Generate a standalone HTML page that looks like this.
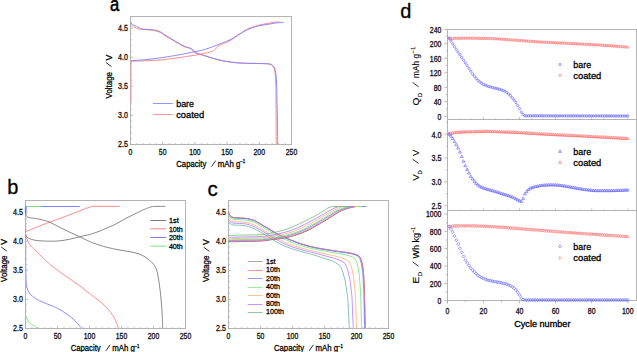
<!DOCTYPE html>
<html><head><meta charset="utf-8"><style>
html,body{margin:0;padding:0;background:#fff;}
body{width:637px;height:352px;overflow:hidden;}
svg{display:block;font-family:"Liberation Sans", sans-serif;}
text{fill:#000;stroke:#000;stroke-width:0.28px;}
.tl{font-weight:normal;fill:#111;stroke:#111;stroke-width:0.32px;}
.bl{fill:#000;}
.rl{stroke-width:0.12px;}
</style></head><body>
<svg width="637" height="352" viewBox="0 0 637 352">
<rect width="637" height="352" fill="#fff"/>
<rect x="130.50" y="16.50" width="161.00" height="128.00" fill="none" stroke="#b4b4b4" stroke-width="1"/>
<line x1="130.50" y1="144.50" x2="130.50" y2="142.10" stroke="#a8a8a8" stroke-width="0.80"/>
<line x1="136.94" y1="144.50" x2="136.94" y2="143.20" stroke="#a8a8a8" stroke-width="0.80"/>
<line x1="143.38" y1="144.50" x2="143.38" y2="143.20" stroke="#a8a8a8" stroke-width="0.80"/>
<line x1="149.82" y1="144.50" x2="149.82" y2="143.20" stroke="#a8a8a8" stroke-width="0.80"/>
<line x1="156.26" y1="144.50" x2="156.26" y2="143.20" stroke="#a8a8a8" stroke-width="0.80"/>
<line x1="162.70" y1="144.50" x2="162.70" y2="142.10" stroke="#a8a8a8" stroke-width="0.80"/>
<line x1="169.14" y1="144.50" x2="169.14" y2="143.20" stroke="#a8a8a8" stroke-width="0.80"/>
<line x1="175.58" y1="144.50" x2="175.58" y2="143.20" stroke="#a8a8a8" stroke-width="0.80"/>
<line x1="182.02" y1="144.50" x2="182.02" y2="143.20" stroke="#a8a8a8" stroke-width="0.80"/>
<line x1="188.46" y1="144.50" x2="188.46" y2="143.20" stroke="#a8a8a8" stroke-width="0.80"/>
<line x1="194.90" y1="144.50" x2="194.90" y2="142.10" stroke="#a8a8a8" stroke-width="0.80"/>
<line x1="201.34" y1="144.50" x2="201.34" y2="143.20" stroke="#a8a8a8" stroke-width="0.80"/>
<line x1="207.78" y1="144.50" x2="207.78" y2="143.20" stroke="#a8a8a8" stroke-width="0.80"/>
<line x1="214.22" y1="144.50" x2="214.22" y2="143.20" stroke="#a8a8a8" stroke-width="0.80"/>
<line x1="220.66" y1="144.50" x2="220.66" y2="143.20" stroke="#a8a8a8" stroke-width="0.80"/>
<line x1="227.10" y1="144.50" x2="227.10" y2="142.10" stroke="#a8a8a8" stroke-width="0.80"/>
<line x1="233.54" y1="144.50" x2="233.54" y2="143.20" stroke="#a8a8a8" stroke-width="0.80"/>
<line x1="239.98" y1="144.50" x2="239.98" y2="143.20" stroke="#a8a8a8" stroke-width="0.80"/>
<line x1="246.42" y1="144.50" x2="246.42" y2="143.20" stroke="#a8a8a8" stroke-width="0.80"/>
<line x1="252.86" y1="144.50" x2="252.86" y2="143.20" stroke="#a8a8a8" stroke-width="0.80"/>
<line x1="259.30" y1="144.50" x2="259.30" y2="142.10" stroke="#a8a8a8" stroke-width="0.80"/>
<line x1="265.74" y1="144.50" x2="265.74" y2="143.20" stroke="#a8a8a8" stroke-width="0.80"/>
<line x1="272.18" y1="144.50" x2="272.18" y2="143.20" stroke="#a8a8a8" stroke-width="0.80"/>
<line x1="278.62" y1="144.50" x2="278.62" y2="143.20" stroke="#a8a8a8" stroke-width="0.80"/>
<line x1="285.06" y1="144.50" x2="285.06" y2="143.20" stroke="#a8a8a8" stroke-width="0.80"/>
<line x1="291.50" y1="144.50" x2="291.50" y2="142.10" stroke="#a8a8a8" stroke-width="0.80"/>
<line x1="130.50" y1="144.50" x2="132.90" y2="144.50" stroke="#a8a8a8" stroke-width="0.80"/>
<line x1="130.50" y1="138.68" x2="131.80" y2="138.68" stroke="#a8a8a8" stroke-width="0.80"/>
<line x1="130.50" y1="132.86" x2="131.80" y2="132.86" stroke="#a8a8a8" stroke-width="0.80"/>
<line x1="130.50" y1="127.05" x2="131.80" y2="127.05" stroke="#a8a8a8" stroke-width="0.80"/>
<line x1="130.50" y1="121.23" x2="131.80" y2="121.23" stroke="#a8a8a8" stroke-width="0.80"/>
<line x1="130.50" y1="115.41" x2="132.90" y2="115.41" stroke="#a8a8a8" stroke-width="0.80"/>
<line x1="130.50" y1="109.59" x2="131.80" y2="109.59" stroke="#a8a8a8" stroke-width="0.80"/>
<line x1="130.50" y1="103.77" x2="131.80" y2="103.77" stroke="#a8a8a8" stroke-width="0.80"/>
<line x1="130.50" y1="97.95" x2="131.80" y2="97.95" stroke="#a8a8a8" stroke-width="0.80"/>
<line x1="130.50" y1="92.14" x2="131.80" y2="92.14" stroke="#a8a8a8" stroke-width="0.80"/>
<line x1="130.50" y1="86.32" x2="132.90" y2="86.32" stroke="#a8a8a8" stroke-width="0.80"/>
<line x1="130.50" y1="80.50" x2="131.80" y2="80.50" stroke="#a8a8a8" stroke-width="0.80"/>
<line x1="130.50" y1="74.68" x2="131.80" y2="74.68" stroke="#a8a8a8" stroke-width="0.80"/>
<line x1="130.50" y1="68.86" x2="131.80" y2="68.86" stroke="#a8a8a8" stroke-width="0.80"/>
<line x1="130.50" y1="63.05" x2="131.80" y2="63.05" stroke="#a8a8a8" stroke-width="0.80"/>
<line x1="130.50" y1="57.23" x2="132.90" y2="57.23" stroke="#a8a8a8" stroke-width="0.80"/>
<line x1="130.50" y1="51.41" x2="131.80" y2="51.41" stroke="#a8a8a8" stroke-width="0.80"/>
<line x1="130.50" y1="45.59" x2="131.80" y2="45.59" stroke="#a8a8a8" stroke-width="0.80"/>
<line x1="130.50" y1="39.77" x2="131.80" y2="39.77" stroke="#a8a8a8" stroke-width="0.80"/>
<line x1="130.50" y1="33.95" x2="131.80" y2="33.95" stroke="#a8a8a8" stroke-width="0.80"/>
<line x1="130.50" y1="28.14" x2="132.90" y2="28.14" stroke="#a8a8a8" stroke-width="0.80"/>
<line x1="130.50" y1="22.32" x2="131.80" y2="22.32" stroke="#a8a8a8" stroke-width="0.80"/>
<line x1="130.50" y1="16.50" x2="131.80" y2="16.50" stroke="#a8a8a8" stroke-width="0.80"/>
<text x="130.50" y="154.50" font-size="8.60" text-anchor="middle" textLength="3.85" lengthAdjust="spacingAndGlyphs" class="tl">0</text>
<text x="162.70" y="154.50" font-size="8.60" text-anchor="middle" textLength="7.70" lengthAdjust="spacingAndGlyphs" class="tl">50</text>
<text x="194.90" y="154.50" font-size="8.60" text-anchor="middle" textLength="11.55" lengthAdjust="spacingAndGlyphs" class="tl">100</text>
<text x="227.10" y="154.50" font-size="8.60" text-anchor="middle" textLength="11.55" lengthAdjust="spacingAndGlyphs" class="tl">150</text>
<text x="259.30" y="154.50" font-size="8.60" text-anchor="middle" textLength="11.55" lengthAdjust="spacingAndGlyphs" class="tl">200</text>
<text x="291.50" y="154.50" font-size="8.60" text-anchor="middle" textLength="11.55" lengthAdjust="spacingAndGlyphs" class="tl">250</text>
<text x="127.90" y="147.40" font-size="8.60" text-anchor="end" textLength="9.90" lengthAdjust="spacingAndGlyphs" class="tl">2.5</text>
<text x="127.90" y="118.31" font-size="8.60" text-anchor="end" textLength="9.90" lengthAdjust="spacingAndGlyphs" class="tl">3.0</text>
<text x="127.90" y="89.22" font-size="8.60" text-anchor="end" textLength="9.90" lengthAdjust="spacingAndGlyphs" class="tl">3.5</text>
<text x="127.90" y="60.13" font-size="8.60" text-anchor="end" textLength="9.90" lengthAdjust="spacingAndGlyphs" class="tl">4.0</text>
<text x="127.90" y="31.04" font-size="8.60" text-anchor="end" textLength="9.90" lengthAdjust="spacingAndGlyphs" class="tl">4.5</text>
<text transform="translate(111.50 98.40) rotate(-90)" font-size="8.60" textLength="26.40" lengthAdjust="spacingAndGlyphs">Voltage</text>
<line x1="111.50" y1="66.60" x2="105.90" y2="62.50" stroke="#1a1a1a" stroke-width="0.90"/>
<text transform="translate(111.50 60.40) rotate(-90)" font-size="8.20" textLength="5.80" lengthAdjust="spacingAndGlyphs">V</text>
<text x="176.30" y="166.60" font-size="8.80" text-anchor="start" textLength="30.00" lengthAdjust="spacingAndGlyphs">Capacity</text>
<line x1="211.50" y1="166.60" x2="215.70" y2="160.60" stroke="#1a1a1a" stroke-width="0.90"/>
<text x="217.80" y="166.60" font-size="8.80" text-anchor="start" textLength="22.60" lengthAdjust="spacingAndGlyphs">mAh g</text>
<text x="240.20" y="163.40" font-size="5.00" text-anchor="start" textLength="4.90" lengthAdjust="spacingAndGlyphs">&#8722;1</text>
<text x="0" y="0" font-size="21" transform="translate(110.1 10.9) scale(0.79 1)" class="bl" style="stroke:#000;stroke-width:0.55px">a</text>
<path d="M131.00 24.80 C131.45 25.13 132.78 26.23 133.70 26.80 C134.62 27.37 135.55 27.82 136.50 28.20 C137.45 28.58 137.98 28.87 139.40 29.10 C140.82 29.33 143.00 29.42 145.00 29.60 C147.00 29.78 149.73 30.00 151.40 30.20 C153.07 30.40 153.48 30.42 155.00 30.80 C156.52 31.18 159.00 31.80 160.50 32.50 C162.00 33.20 162.68 34.15 164.00 35.00 C165.32 35.85 166.72 36.60 168.40 37.60 C170.08 38.60 172.20 39.87 174.10 41.00 C176.00 42.13 177.98 43.40 179.80 44.40 C181.62 45.40 183.48 46.43 185.00 47.00 C186.52 47.57 187.78 47.38 188.90 47.80 C190.02 48.22 190.95 48.83 191.70 49.50 C192.45 50.17 192.55 51.13 193.40 51.80 C194.25 52.47 195.70 53.07 196.80 53.50 C197.90 53.93 198.53 53.97 200.00 54.40 C201.47 54.83 203.25 55.38 205.60 56.10 C207.95 56.82 211.27 57.92 214.10 58.70 C216.93 59.48 219.95 60.23 222.60 60.80 C225.25 61.37 227.45 61.75 230.00 62.10 C232.55 62.45 234.93 62.68 237.90 62.90 C240.87 63.12 244.48 63.30 247.80 63.40 C251.12 63.50 254.47 63.42 257.80 63.50 C261.13 63.58 265.55 63.68 267.80 63.90 C270.05 64.12 270.28 64.12 271.30 64.80 C272.32 65.48 273.25 66.47 273.90 68.00 C274.55 69.53 274.88 71.33 275.20 74.00 C275.52 76.67 275.67 79.67 275.80 84.00 C275.93 88.33 275.95 94.00 276.00 100.00 C276.05 106.00 276.07 112.67 276.10 120.00 C276.13 127.33 276.18 140.00 276.20 144.00" fill="none" stroke="#ff7f7f" stroke-width="0.90" stroke-linejoin="round"/>
<path d="M131.00 23.30 C131.45 23.60 132.78 24.57 133.70 25.10 C134.62 25.63 135.55 26.03 136.50 26.50 C137.45 26.97 138.45 27.48 139.40 27.90 C140.35 28.32 140.78 28.75 142.20 29.00 C143.62 29.25 146.00 29.25 147.90 29.40 C149.80 29.55 152.08 29.70 153.60 29.90 C155.12 30.10 155.85 30.27 157.00 30.60 C158.15 30.93 159.35 31.30 160.50 31.90 C161.65 32.50 162.58 33.35 163.90 34.20 C165.22 35.05 166.70 35.95 168.40 37.00 C170.10 38.05 172.20 39.35 174.10 40.50 C176.00 41.65 177.90 42.87 179.80 43.90 C181.70 44.93 183.80 45.98 185.50 46.70 C187.20 47.42 188.87 47.82 190.00 48.20 C191.13 48.58 191.55 48.48 192.30 49.00 C193.05 49.52 193.75 50.63 194.50 51.30 C195.25 51.97 195.88 52.53 196.80 53.00 C197.72 53.47 198.53 53.60 200.00 54.10 C201.47 54.60 203.25 55.25 205.60 56.00 C207.95 56.75 211.27 57.82 214.10 58.60 C216.93 59.38 219.95 60.13 222.60 60.70 C225.25 61.27 227.45 61.65 230.00 62.00 C232.55 62.35 234.93 62.58 237.90 62.80 C240.87 63.02 244.48 63.20 247.80 63.30 C251.12 63.40 254.47 63.32 257.80 63.40 C261.13 63.48 265.48 63.57 267.80 63.80 C270.12 64.03 270.58 64.13 271.70 64.80 C272.82 65.47 273.80 66.27 274.50 67.80 C275.20 69.33 275.55 71.30 275.90 74.00 C276.25 76.70 276.42 79.67 276.60 84.00 C276.78 88.33 276.87 94.00 277.00 100.00 C277.13 106.00 277.28 112.67 277.40 120.00 C277.52 127.33 277.65 140.00 277.70 144.00" fill="none" stroke="#8080ff" stroke-width="0.90" stroke-linejoin="round"/>
<line x1="131.00" y1="61.00" x2="131.00" y2="102.50" stroke="#ff9a9a" stroke-width="0.90"/>
<path d="M131.00 61.30 C133.83 61.18 142.72 60.85 148.00 60.60 C153.28 60.35 159.03 60.10 162.70 59.80 C166.37 59.50 167.15 59.18 170.00 58.80 C172.85 58.42 176.28 58.00 179.80 57.50 C183.32 57.00 188.23 56.23 191.10 55.80 C193.97 55.37 194.58 55.37 197.00 54.90 C199.42 54.43 203.03 53.60 205.60 53.00 C208.17 52.40 210.70 52.00 212.40 51.30 C214.10 50.60 214.82 49.72 215.80 48.80 C216.78 47.88 217.17 46.58 218.30 45.80 C219.43 45.02 220.65 44.95 222.60 44.10 C224.55 43.25 227.45 42.13 230.00 40.70 C232.55 39.27 234.93 37.47 237.90 35.50 C240.87 33.53 244.48 30.58 247.80 28.90 C251.12 27.22 254.47 26.32 257.80 25.40 C261.13 24.48 264.82 23.97 267.80 23.40 C270.78 22.83 273.72 22.20 275.70 22.00 C277.68 21.80 279.03 22.17 279.70 22.20" fill="none" stroke="#ff7f7f" stroke-width="0.90" stroke-linejoin="round"/>
<path d="M131.00 60.60 C132.50 60.52 137.17 60.30 140.00 60.10 C142.83 59.90 144.22 59.83 148.00 59.40 C151.78 58.97 157.40 58.28 162.70 57.50 C168.00 56.72 175.07 55.55 179.80 54.70 C184.53 53.85 187.73 53.07 191.10 52.40 C194.47 51.73 197.58 51.23 200.00 50.70 C202.42 50.17 203.25 49.95 205.60 49.20 C207.95 48.45 211.27 47.27 214.10 46.20 C216.93 45.13 219.95 43.87 222.60 42.80 C225.25 41.73 227.45 41.12 230.00 39.80 C232.55 38.48 234.93 36.62 237.90 34.90 C240.87 33.18 244.48 30.98 247.80 29.50 C251.12 28.02 254.47 26.85 257.80 26.00 C261.13 25.15 264.82 24.90 267.80 24.40 C270.78 23.90 273.05 23.33 275.70 23.00 C278.35 22.67 282.37 22.50 283.70 22.40" fill="none" stroke="#8080ff" stroke-width="0.90" stroke-linejoin="round"/>
<line x1="152.80" y1="103.50" x2="172.80" y2="103.50" stroke="#9494ff" stroke-width="1.00"/>
<line x1="152.80" y1="114.50" x2="172.80" y2="114.50" stroke="#ff9898" stroke-width="1.00"/>
<text x="176.20" y="106.90" font-size="9.00" text-anchor="start" textLength="17.80" lengthAdjust="spacingAndGlyphs">bare</text>
<text x="176.20" y="117.80" font-size="9.00" text-anchor="start" textLength="28.00" lengthAdjust="spacingAndGlyphs">coated</text>
<rect x="25.50" y="200.50" width="160.00" height="128.00" fill="none" stroke="#b4b4b4" stroke-width="1"/>
<line x1="25.50" y1="328.50" x2="25.50" y2="326.10" stroke="#a8a8a8" stroke-width="0.80"/>
<line x1="31.90" y1="328.50" x2="31.90" y2="327.20" stroke="#a8a8a8" stroke-width="0.80"/>
<line x1="38.30" y1="328.50" x2="38.30" y2="327.20" stroke="#a8a8a8" stroke-width="0.80"/>
<line x1="44.70" y1="328.50" x2="44.70" y2="327.20" stroke="#a8a8a8" stroke-width="0.80"/>
<line x1="51.10" y1="328.50" x2="51.10" y2="327.20" stroke="#a8a8a8" stroke-width="0.80"/>
<line x1="57.50" y1="328.50" x2="57.50" y2="326.10" stroke="#a8a8a8" stroke-width="0.80"/>
<line x1="63.90" y1="328.50" x2="63.90" y2="327.20" stroke="#a8a8a8" stroke-width="0.80"/>
<line x1="70.30" y1="328.50" x2="70.30" y2="327.20" stroke="#a8a8a8" stroke-width="0.80"/>
<line x1="76.70" y1="328.50" x2="76.70" y2="327.20" stroke="#a8a8a8" stroke-width="0.80"/>
<line x1="83.10" y1="328.50" x2="83.10" y2="327.20" stroke="#a8a8a8" stroke-width="0.80"/>
<line x1="89.50" y1="328.50" x2="89.50" y2="326.10" stroke="#a8a8a8" stroke-width="0.80"/>
<line x1="95.90" y1="328.50" x2="95.90" y2="327.20" stroke="#a8a8a8" stroke-width="0.80"/>
<line x1="102.30" y1="328.50" x2="102.30" y2="327.20" stroke="#a8a8a8" stroke-width="0.80"/>
<line x1="108.70" y1="328.50" x2="108.70" y2="327.20" stroke="#a8a8a8" stroke-width="0.80"/>
<line x1="115.10" y1="328.50" x2="115.10" y2="327.20" stroke="#a8a8a8" stroke-width="0.80"/>
<line x1="121.50" y1="328.50" x2="121.50" y2="326.10" stroke="#a8a8a8" stroke-width="0.80"/>
<line x1="127.90" y1="328.50" x2="127.90" y2="327.20" stroke="#a8a8a8" stroke-width="0.80"/>
<line x1="134.30" y1="328.50" x2="134.30" y2="327.20" stroke="#a8a8a8" stroke-width="0.80"/>
<line x1="140.70" y1="328.50" x2="140.70" y2="327.20" stroke="#a8a8a8" stroke-width="0.80"/>
<line x1="147.10" y1="328.50" x2="147.10" y2="327.20" stroke="#a8a8a8" stroke-width="0.80"/>
<line x1="153.50" y1="328.50" x2="153.50" y2="326.10" stroke="#a8a8a8" stroke-width="0.80"/>
<line x1="159.90" y1="328.50" x2="159.90" y2="327.20" stroke="#a8a8a8" stroke-width="0.80"/>
<line x1="166.30" y1="328.50" x2="166.30" y2="327.20" stroke="#a8a8a8" stroke-width="0.80"/>
<line x1="172.70" y1="328.50" x2="172.70" y2="327.20" stroke="#a8a8a8" stroke-width="0.80"/>
<line x1="179.10" y1="328.50" x2="179.10" y2="327.20" stroke="#a8a8a8" stroke-width="0.80"/>
<line x1="185.50" y1="328.50" x2="185.50" y2="326.10" stroke="#a8a8a8" stroke-width="0.80"/>
<line x1="25.50" y1="328.50" x2="27.90" y2="328.50" stroke="#a8a8a8" stroke-width="0.80"/>
<line x1="25.50" y1="322.68" x2="26.80" y2="322.68" stroke="#a8a8a8" stroke-width="0.80"/>
<line x1="25.50" y1="316.86" x2="26.80" y2="316.86" stroke="#a8a8a8" stroke-width="0.80"/>
<line x1="25.50" y1="311.05" x2="26.80" y2="311.05" stroke="#a8a8a8" stroke-width="0.80"/>
<line x1="25.50" y1="305.23" x2="26.80" y2="305.23" stroke="#a8a8a8" stroke-width="0.80"/>
<line x1="25.50" y1="299.41" x2="27.90" y2="299.41" stroke="#a8a8a8" stroke-width="0.80"/>
<line x1="25.50" y1="293.59" x2="26.80" y2="293.59" stroke="#a8a8a8" stroke-width="0.80"/>
<line x1="25.50" y1="287.77" x2="26.80" y2="287.77" stroke="#a8a8a8" stroke-width="0.80"/>
<line x1="25.50" y1="281.95" x2="26.80" y2="281.95" stroke="#a8a8a8" stroke-width="0.80"/>
<line x1="25.50" y1="276.14" x2="26.80" y2="276.14" stroke="#a8a8a8" stroke-width="0.80"/>
<line x1="25.50" y1="270.32" x2="27.90" y2="270.32" stroke="#a8a8a8" stroke-width="0.80"/>
<line x1="25.50" y1="264.50" x2="26.80" y2="264.50" stroke="#a8a8a8" stroke-width="0.80"/>
<line x1="25.50" y1="258.68" x2="26.80" y2="258.68" stroke="#a8a8a8" stroke-width="0.80"/>
<line x1="25.50" y1="252.86" x2="26.80" y2="252.86" stroke="#a8a8a8" stroke-width="0.80"/>
<line x1="25.50" y1="247.05" x2="26.80" y2="247.05" stroke="#a8a8a8" stroke-width="0.80"/>
<line x1="25.50" y1="241.23" x2="27.90" y2="241.23" stroke="#a8a8a8" stroke-width="0.80"/>
<line x1="25.50" y1="235.41" x2="26.80" y2="235.41" stroke="#a8a8a8" stroke-width="0.80"/>
<line x1="25.50" y1="229.59" x2="26.80" y2="229.59" stroke="#a8a8a8" stroke-width="0.80"/>
<line x1="25.50" y1="223.77" x2="26.80" y2="223.77" stroke="#a8a8a8" stroke-width="0.80"/>
<line x1="25.50" y1="217.95" x2="26.80" y2="217.95" stroke="#a8a8a8" stroke-width="0.80"/>
<line x1="25.50" y1="212.14" x2="27.90" y2="212.14" stroke="#a8a8a8" stroke-width="0.80"/>
<line x1="25.50" y1="206.32" x2="26.80" y2="206.32" stroke="#a8a8a8" stroke-width="0.80"/>
<line x1="25.50" y1="200.50" x2="26.80" y2="200.50" stroke="#a8a8a8" stroke-width="0.80"/>
<text x="25.50" y="338.50" font-size="8.60" text-anchor="middle" textLength="3.85" lengthAdjust="spacingAndGlyphs" class="tl">0</text>
<text x="57.50" y="338.50" font-size="8.60" text-anchor="middle" textLength="7.70" lengthAdjust="spacingAndGlyphs" class="tl">50</text>
<text x="89.50" y="338.50" font-size="8.60" text-anchor="middle" textLength="11.55" lengthAdjust="spacingAndGlyphs" class="tl">100</text>
<text x="121.50" y="338.50" font-size="8.60" text-anchor="middle" textLength="11.55" lengthAdjust="spacingAndGlyphs" class="tl">150</text>
<text x="153.50" y="338.50" font-size="8.60" text-anchor="middle" textLength="11.55" lengthAdjust="spacingAndGlyphs" class="tl">200</text>
<text x="185.50" y="338.50" font-size="8.60" text-anchor="middle" textLength="11.55" lengthAdjust="spacingAndGlyphs" class="tl">250</text>
<text x="22.90" y="331.40" font-size="8.60" text-anchor="end" textLength="9.90" lengthAdjust="spacingAndGlyphs" class="tl">2.5</text>
<text x="22.90" y="302.31" font-size="8.60" text-anchor="end" textLength="9.90" lengthAdjust="spacingAndGlyphs" class="tl">3.0</text>
<text x="22.90" y="273.22" font-size="8.60" text-anchor="end" textLength="9.90" lengthAdjust="spacingAndGlyphs" class="tl">3.5</text>
<text x="22.90" y="244.13" font-size="8.60" text-anchor="end" textLength="9.90" lengthAdjust="spacingAndGlyphs" class="tl">4.0</text>
<text x="22.90" y="215.04" font-size="8.60" text-anchor="end" textLength="9.90" lengthAdjust="spacingAndGlyphs" class="tl">4.5</text>
<text transform="translate(6.80 281.90) rotate(-90)" font-size="8.60" textLength="26.40" lengthAdjust="spacingAndGlyphs">Voltage</text>
<line x1="6.80" y1="251.10" x2="1.20" y2="247.00" stroke="#1a1a1a" stroke-width="0.90"/>
<text transform="translate(6.80 244.70) rotate(-90)" font-size="8.20" textLength="5.80" lengthAdjust="spacingAndGlyphs">V</text>
<text x="70.70" y="350.80" font-size="8.80" text-anchor="start" textLength="30.00" lengthAdjust="spacingAndGlyphs">Capacity</text>
<line x1="105.90" y1="350.80" x2="110.10" y2="344.80" stroke="#1a1a1a" stroke-width="0.90"/>
<text x="112.20" y="350.80" font-size="8.80" text-anchor="start" textLength="22.60" lengthAdjust="spacingAndGlyphs">mAh g</text>
<text x="134.60" y="347.60" font-size="5.00" text-anchor="start" textLength="4.90" lengthAdjust="spacingAndGlyphs">&#8722;1</text>
<text x="7.20" y="193.90" font-size="20.00" text-anchor="start" class="bl">b</text>
<path d="M25.60 215.00 C25.62 222.50 25.63 249.18 25.70 260.00 C25.77 270.82 25.78 275.25 26.00 279.90 C26.22 284.55 26.33 285.58 27.00 287.90 C27.67 290.22 28.52 291.98 30.00 293.80 C31.48 295.62 33.58 297.33 35.90 298.80 C38.22 300.27 40.92 301.30 43.90 302.60 C46.88 303.90 51.32 305.53 53.80 306.60 C56.28 307.67 57.13 308.08 58.80 309.00 C60.47 309.92 61.65 310.65 63.80 312.10 C65.95 313.55 69.38 315.77 71.70 317.70 C74.02 319.63 76.03 321.97 77.70 323.70 C79.37 325.43 81.03 327.37 81.70 328.10" fill="none" stroke="#8080ff" stroke-width="0.90" stroke-linejoin="round"/>
<line x1="40.90" y1="206.50" x2="79.70" y2="206.50" stroke="#8080ff" stroke-width="1.00"/>
<path d="M25.50 206.30 C25.50 224.20 25.43 295.37 25.50 313.70 C25.57 332.03 25.47 315.08 25.90 316.30 C26.33 317.52 27.33 319.83 28.10 321.00 C28.87 322.17 29.68 322.58 30.50 323.30 C31.32 324.02 31.72 324.50 33.00 325.30 C34.28 326.10 37.33 327.63 38.20 328.10" fill="none" stroke="#7ae07a" stroke-width="0.90" stroke-linejoin="round"/>
<line x1="25.50" y1="206.50" x2="40.90" y2="206.50" stroke="#7ae07a" stroke-width="1.00"/>
<path d="M26.60 206.60 C26.53 207.17 26.32 208.68 26.20 210.00 C26.08 211.32 25.95 213.75 25.90 214.50" fill="none" stroke="#8080ff" stroke-width="0.90" stroke-linejoin="round"/>
<path d="M25.40 235.80 C26.17 237.30 28.40 242.43 30.00 244.80 C31.60 247.17 33.35 248.35 35.00 250.00 C36.65 251.65 38.42 253.23 39.90 254.70 C41.38 256.17 42.23 257.20 43.90 258.80 C45.57 260.40 47.25 262.12 49.90 264.30 C52.55 266.48 56.48 269.47 59.80 271.90 C63.12 274.33 66.48 276.57 69.80 278.90 C73.12 281.23 76.38 283.45 79.70 285.90 C83.02 288.35 87.15 291.65 89.70 293.60 C92.25 295.55 93.05 296.10 95.00 297.60 C96.95 299.10 99.27 300.70 101.40 302.60 C103.53 304.50 105.67 306.52 107.80 309.00 C109.93 311.48 112.43 314.32 114.20 317.50 C115.97 320.68 117.70 326.33 118.40 328.10" fill="none" stroke="#ff7f7f" stroke-width="0.90" stroke-linejoin="round"/>
<path d="M25.40 231.80 L39.90 225.80 L59.80 218.50 L79.70 210.90 L91.60 206.30 L119.90 206.30" fill="none" stroke="#ff7f7f" stroke-width="0.90" stroke-linejoin="round"/>
<path d="M25.40 206.30 C25.42 207.50 25.07 211.68 25.50 213.50 C25.93 215.32 26.60 216.40 28.00 217.20 C29.40 218.00 31.92 217.95 33.90 218.30 C35.88 218.65 37.23 218.63 39.90 219.30 C42.57 219.97 46.58 220.95 49.90 222.30 C53.22 223.65 56.48 225.75 59.80 227.40 C63.12 229.05 66.48 230.63 69.80 232.20 C73.12 233.77 76.38 235.23 79.70 236.80 C83.02 238.37 87.15 240.47 89.70 241.60 C92.25 242.73 93.28 242.98 95.00 243.60 C96.72 244.22 98.33 244.77 100.00 245.30 C101.67 245.83 102.52 246.17 105.00 246.80 C107.48 247.43 111.58 248.42 114.90 249.10 C118.22 249.78 121.58 250.30 124.90 250.90 C128.22 251.50 131.82 251.92 134.80 252.70 C137.78 253.48 140.48 254.43 142.80 255.60 C145.12 256.77 146.90 258.25 148.70 259.70 C150.50 261.15 152.25 262.48 153.60 264.30 C154.95 266.12 155.92 267.77 156.80 270.60 C157.68 273.43 158.20 276.68 158.90 281.30 C159.60 285.92 160.47 292.98 161.00 298.30 C161.53 303.62 161.82 308.23 162.10 313.20 C162.38 318.17 162.60 325.62 162.70 328.10" fill="none" stroke="#7c7c7c" stroke-width="0.90" stroke-linejoin="round"/>
<path d="M25.40 234.80 C25.83 235.30 26.25 236.87 28.00 237.80 C29.75 238.73 32.25 239.83 35.90 240.40 C39.55 240.97 45.92 241.13 49.90 241.20 C53.88 241.27 56.48 241.13 59.80 240.80 C63.12 240.47 66.48 239.87 69.80 239.20 C73.12 238.53 76.38 237.60 79.70 236.80 C83.02 236.00 87.15 235.07 89.70 234.40 C92.25 233.73 93.28 233.37 95.00 232.80 C96.72 232.23 98.33 231.67 100.00 231.00 C101.67 230.33 102.52 229.88 105.00 228.80 C107.48 227.72 111.58 226.15 114.90 224.50 C118.22 222.85 121.58 220.67 124.90 218.90 C128.22 217.13 131.48 215.52 134.80 213.90 C138.12 212.28 142.35 210.28 144.80 209.20 C147.25 208.12 148.20 207.83 149.50 207.40 C150.80 206.97 151.70 206.77 152.60 206.60 C153.50 206.43 153.67 206.43 154.90 206.40 C156.13 206.37 158.22 206.40 160.00 206.40 C161.78 206.40 164.67 206.40 165.60 206.40" fill="none" stroke="#7c7c7c" stroke-width="0.90" stroke-linejoin="round"/>
<line x1="150.30" y1="220.50" x2="166.20" y2="220.50" stroke="#7c7c7c" stroke-width="1.00"/>
<text x="168.90" y="223.20" font-size="7.80" text-anchor="start" textLength="9.80" lengthAdjust="spacingAndGlyphs">1st</text>
<line x1="150.30" y1="228.80" x2="166.20" y2="228.80" stroke="#ff7f7f" stroke-width="1.00"/>
<text x="168.90" y="231.83" font-size="7.80" text-anchor="start" textLength="13.90" lengthAdjust="spacingAndGlyphs">10th</text>
<line x1="150.30" y1="237.50" x2="166.20" y2="237.50" stroke="#8080ff" stroke-width="1.00"/>
<text x="168.90" y="240.46" font-size="7.80" text-anchor="start" textLength="13.90" lengthAdjust="spacingAndGlyphs">20th</text>
<line x1="150.30" y1="246.10" x2="166.20" y2="246.10" stroke="#7ae07a" stroke-width="1.00"/>
<text x="168.90" y="249.09" font-size="7.80" text-anchor="start" textLength="13.90" lengthAdjust="spacingAndGlyphs">40th</text>
<rect x="228.50" y="200.50" width="160.00" height="128.00" fill="none" stroke="#b4b4b4" stroke-width="1"/>
<line x1="228.50" y1="328.50" x2="228.50" y2="326.10" stroke="#a8a8a8" stroke-width="0.80"/>
<line x1="234.90" y1="328.50" x2="234.90" y2="327.20" stroke="#a8a8a8" stroke-width="0.80"/>
<line x1="241.30" y1="328.50" x2="241.30" y2="327.20" stroke="#a8a8a8" stroke-width="0.80"/>
<line x1="247.70" y1="328.50" x2="247.70" y2="327.20" stroke="#a8a8a8" stroke-width="0.80"/>
<line x1="254.10" y1="328.50" x2="254.10" y2="327.20" stroke="#a8a8a8" stroke-width="0.80"/>
<line x1="260.50" y1="328.50" x2="260.50" y2="326.10" stroke="#a8a8a8" stroke-width="0.80"/>
<line x1="266.90" y1="328.50" x2="266.90" y2="327.20" stroke="#a8a8a8" stroke-width="0.80"/>
<line x1="273.30" y1="328.50" x2="273.30" y2="327.20" stroke="#a8a8a8" stroke-width="0.80"/>
<line x1="279.70" y1="328.50" x2="279.70" y2="327.20" stroke="#a8a8a8" stroke-width="0.80"/>
<line x1="286.10" y1="328.50" x2="286.10" y2="327.20" stroke="#a8a8a8" stroke-width="0.80"/>
<line x1="292.50" y1="328.50" x2="292.50" y2="326.10" stroke="#a8a8a8" stroke-width="0.80"/>
<line x1="298.90" y1="328.50" x2="298.90" y2="327.20" stroke="#a8a8a8" stroke-width="0.80"/>
<line x1="305.30" y1="328.50" x2="305.30" y2="327.20" stroke="#a8a8a8" stroke-width="0.80"/>
<line x1="311.70" y1="328.50" x2="311.70" y2="327.20" stroke="#a8a8a8" stroke-width="0.80"/>
<line x1="318.10" y1="328.50" x2="318.10" y2="327.20" stroke="#a8a8a8" stroke-width="0.80"/>
<line x1="324.50" y1="328.50" x2="324.50" y2="326.10" stroke="#a8a8a8" stroke-width="0.80"/>
<line x1="330.90" y1="328.50" x2="330.90" y2="327.20" stroke="#a8a8a8" stroke-width="0.80"/>
<line x1="337.30" y1="328.50" x2="337.30" y2="327.20" stroke="#a8a8a8" stroke-width="0.80"/>
<line x1="343.70" y1="328.50" x2="343.70" y2="327.20" stroke="#a8a8a8" stroke-width="0.80"/>
<line x1="350.10" y1="328.50" x2="350.10" y2="327.20" stroke="#a8a8a8" stroke-width="0.80"/>
<line x1="356.50" y1="328.50" x2="356.50" y2="326.10" stroke="#a8a8a8" stroke-width="0.80"/>
<line x1="362.90" y1="328.50" x2="362.90" y2="327.20" stroke="#a8a8a8" stroke-width="0.80"/>
<line x1="369.30" y1="328.50" x2="369.30" y2="327.20" stroke="#a8a8a8" stroke-width="0.80"/>
<line x1="375.70" y1="328.50" x2="375.70" y2="327.20" stroke="#a8a8a8" stroke-width="0.80"/>
<line x1="382.10" y1="328.50" x2="382.10" y2="327.20" stroke="#a8a8a8" stroke-width="0.80"/>
<line x1="388.50" y1="328.50" x2="388.50" y2="326.10" stroke="#a8a8a8" stroke-width="0.80"/>
<line x1="228.50" y1="328.50" x2="230.90" y2="328.50" stroke="#a8a8a8" stroke-width="0.80"/>
<line x1="228.50" y1="322.68" x2="229.80" y2="322.68" stroke="#a8a8a8" stroke-width="0.80"/>
<line x1="228.50" y1="316.86" x2="229.80" y2="316.86" stroke="#a8a8a8" stroke-width="0.80"/>
<line x1="228.50" y1="311.05" x2="229.80" y2="311.05" stroke="#a8a8a8" stroke-width="0.80"/>
<line x1="228.50" y1="305.23" x2="229.80" y2="305.23" stroke="#a8a8a8" stroke-width="0.80"/>
<line x1="228.50" y1="299.41" x2="230.90" y2="299.41" stroke="#a8a8a8" stroke-width="0.80"/>
<line x1="228.50" y1="293.59" x2="229.80" y2="293.59" stroke="#a8a8a8" stroke-width="0.80"/>
<line x1="228.50" y1="287.77" x2="229.80" y2="287.77" stroke="#a8a8a8" stroke-width="0.80"/>
<line x1="228.50" y1="281.95" x2="229.80" y2="281.95" stroke="#a8a8a8" stroke-width="0.80"/>
<line x1="228.50" y1="276.14" x2="229.80" y2="276.14" stroke="#a8a8a8" stroke-width="0.80"/>
<line x1="228.50" y1="270.32" x2="230.90" y2="270.32" stroke="#a8a8a8" stroke-width="0.80"/>
<line x1="228.50" y1="264.50" x2="229.80" y2="264.50" stroke="#a8a8a8" stroke-width="0.80"/>
<line x1="228.50" y1="258.68" x2="229.80" y2="258.68" stroke="#a8a8a8" stroke-width="0.80"/>
<line x1="228.50" y1="252.86" x2="229.80" y2="252.86" stroke="#a8a8a8" stroke-width="0.80"/>
<line x1="228.50" y1="247.05" x2="229.80" y2="247.05" stroke="#a8a8a8" stroke-width="0.80"/>
<line x1="228.50" y1="241.23" x2="230.90" y2="241.23" stroke="#a8a8a8" stroke-width="0.80"/>
<line x1="228.50" y1="235.41" x2="229.80" y2="235.41" stroke="#a8a8a8" stroke-width="0.80"/>
<line x1="228.50" y1="229.59" x2="229.80" y2="229.59" stroke="#a8a8a8" stroke-width="0.80"/>
<line x1="228.50" y1="223.77" x2="229.80" y2="223.77" stroke="#a8a8a8" stroke-width="0.80"/>
<line x1="228.50" y1="217.95" x2="229.80" y2="217.95" stroke="#a8a8a8" stroke-width="0.80"/>
<line x1="228.50" y1="212.14" x2="230.90" y2="212.14" stroke="#a8a8a8" stroke-width="0.80"/>
<line x1="228.50" y1="206.32" x2="229.80" y2="206.32" stroke="#a8a8a8" stroke-width="0.80"/>
<line x1="228.50" y1="200.50" x2="229.80" y2="200.50" stroke="#a8a8a8" stroke-width="0.80"/>
<text x="228.50" y="338.50" font-size="8.60" text-anchor="middle" textLength="3.85" lengthAdjust="spacingAndGlyphs" class="tl">0</text>
<text x="260.50" y="338.50" font-size="8.60" text-anchor="middle" textLength="7.70" lengthAdjust="spacingAndGlyphs" class="tl">50</text>
<text x="292.50" y="338.50" font-size="8.60" text-anchor="middle" textLength="11.55" lengthAdjust="spacingAndGlyphs" class="tl">100</text>
<text x="324.50" y="338.50" font-size="8.60" text-anchor="middle" textLength="11.55" lengthAdjust="spacingAndGlyphs" class="tl">150</text>
<text x="356.50" y="338.50" font-size="8.60" text-anchor="middle" textLength="11.55" lengthAdjust="spacingAndGlyphs" class="tl">200</text>
<text x="388.50" y="338.50" font-size="8.60" text-anchor="middle" textLength="11.55" lengthAdjust="spacingAndGlyphs" class="tl">250</text>
<text x="225.90" y="331.40" font-size="8.60" text-anchor="end" textLength="9.90" lengthAdjust="spacingAndGlyphs" class="tl">2.5</text>
<text x="225.90" y="302.31" font-size="8.60" text-anchor="end" textLength="9.90" lengthAdjust="spacingAndGlyphs" class="tl">3.0</text>
<text x="225.90" y="273.22" font-size="8.60" text-anchor="end" textLength="9.90" lengthAdjust="spacingAndGlyphs" class="tl">3.5</text>
<text x="225.90" y="244.13" font-size="8.60" text-anchor="end" textLength="9.90" lengthAdjust="spacingAndGlyphs" class="tl">4.0</text>
<text x="225.90" y="215.04" font-size="8.60" text-anchor="end" textLength="9.90" lengthAdjust="spacingAndGlyphs" class="tl">4.5</text>
<text transform="translate(209.30 282.10) rotate(-90)" font-size="8.60" textLength="26.40" lengthAdjust="spacingAndGlyphs">Voltage</text>
<line x1="209.30" y1="251.30" x2="203.70" y2="247.20" stroke="#1a1a1a" stroke-width="0.90"/>
<text transform="translate(209.30 244.90) rotate(-90)" font-size="8.20" textLength="5.80" lengthAdjust="spacingAndGlyphs">V</text>
<text x="274.00" y="350.80" font-size="8.80" text-anchor="start" textLength="30.00" lengthAdjust="spacingAndGlyphs">Capacity</text>
<line x1="309.20" y1="350.80" x2="313.40" y2="344.80" stroke="#1a1a1a" stroke-width="0.90"/>
<text x="315.50" y="350.80" font-size="8.80" text-anchor="start" textLength="22.60" lengthAdjust="spacingAndGlyphs">mAh g</text>
<text x="337.90" y="347.60" font-size="5.00" text-anchor="start" textLength="4.90" lengthAdjust="spacingAndGlyphs">&#8722;1</text>
<text x="207.40" y="195.60" font-size="20.60" text-anchor="start" class="bl">c</text>
<path d="M228.40 212.50 C228.70 213.02 229.38 214.78 230.18 215.62 C230.98 216.46 232.12 217.16 233.23 217.52 C234.34 217.88 235.63 217.69 236.84 217.77 C238.04 217.86 239.24 217.95 240.44 218.03 C241.65 218.10 242.85 218.14 244.05 218.23 C245.25 218.32 246.46 218.36 247.64 218.58 C248.82 218.79 249.97 219.22 251.13 219.54 C252.29 219.86 253.51 220.04 254.62 220.49 C255.72 220.95 256.72 221.65 257.76 222.26 C258.80 222.86 259.83 223.50 260.86 224.12 C261.90 224.73 262.94 225.35 263.97 225.96 C265.01 226.57 266.05 227.18 267.09 227.79 C268.13 228.40 269.17 229.01 270.21 229.63 C271.25 230.24 272.28 230.87 273.31 231.49 C274.34 232.11 275.36 232.76 276.41 233.35 C277.46 233.94 278.53 234.50 279.61 235.03 C280.69 235.57 281.80 236.04 282.90 236.54 C283.99 237.04 285.09 237.53 286.19 238.02 C287.29 238.52 288.39 239.02 289.50 239.48 C290.62 239.94 291.75 240.36 292.87 240.79 C294.00 241.22 295.13 241.65 296.25 242.08 C297.38 242.50 298.49 242.97 299.63 243.36 C300.78 243.75 301.94 244.06 303.10 244.40 C304.25 244.74 305.41 245.07 306.57 245.41 C307.73 245.74 308.88 246.11 310.05 246.41 C311.21 246.71 312.40 246.94 313.58 247.19 C314.76 247.44 315.94 247.69 317.12 247.92 C318.30 248.16 319.48 248.40 320.67 248.61 C321.86 248.82 323.05 249.00 324.24 249.20 C325.43 249.39 326.62 249.59 327.81 249.78 C329.00 249.98 330.19 250.18 331.38 250.37 C332.57 250.56 333.76 250.75 334.95 250.93 C336.14 251.10 337.34 251.25 338.53 251.42 C339.73 251.58 340.92 251.74 342.12 251.90 C343.31 252.06 344.51 252.22 345.70 252.39 C346.89 252.56 348.09 252.74 349.28 252.94 C350.46 253.14 351.67 253.31 352.83 253.60 C353.99 253.89 355.14 254.21 356.23 254.69 C357.33 255.16 358.59 255.62 359.40 256.44 C360.21 257.26 360.64 258.51 361.09 259.61 C361.54 260.71 361.85 261.87 362.11 263.04 C362.38 264.20 362.48 265.42 362.67 266.61 C362.85 267.80 363.07 268.99 363.22 270.18 C363.37 271.38 363.50 272.58 363.59 273.78 C363.68 274.98 363.71 276.19 363.77 277.39 C363.83 278.59 363.89 279.80 363.95 281.00 C364.01 282.21 364.07 283.41 364.13 284.61 C364.19 285.82 364.25 287.02 364.31 288.23 C364.37 289.43 364.45 290.63 364.49 291.84 C364.53 293.04 364.54 294.25 364.57 295.46 C364.59 296.66 364.61 297.87 364.64 299.07 C364.66 300.28 364.68 301.48 364.71 302.69 C364.73 303.89 364.75 305.10 364.78 306.30 C364.80 307.51 364.82 308.71 364.85 309.92 C364.87 311.12 364.90 312.33 364.92 313.54 C364.94 314.74 364.97 315.95 364.99 317.15 C365.01 318.36 365.04 319.56 365.06 320.77 C365.08 321.97 365.11 323.18 365.13 324.38 C365.15 325.59 365.19 327.40 365.20 328.00" fill="none" stroke="#6c5c7c" stroke-width="0.85" stroke-linejoin="round"/>
<path d="M228.40 212.50 C228.70 213.02 229.38 214.78 230.18 215.62 C230.98 216.46 232.12 217.16 233.23 217.52 C234.34 217.88 235.63 217.69 236.84 217.77 C238.04 217.86 239.24 217.95 240.44 218.03 C241.65 218.10 242.85 218.14 244.05 218.23 C245.25 218.32 246.46 218.36 247.64 218.58 C248.82 218.79 249.97 219.22 251.13 219.54 C252.29 219.86 253.51 220.04 254.62 220.49 C255.72 220.95 256.72 221.65 257.76 222.26 C258.80 222.86 259.83 223.50 260.86 224.12 C261.90 224.73 262.94 225.35 263.97 225.96 C265.01 226.57 266.05 227.18 267.09 227.79 C268.13 228.40 269.17 229.01 270.21 229.63 C271.25 230.24 272.28 230.87 273.31 231.49 C274.34 232.11 275.36 232.76 276.41 233.35 C277.46 233.94 278.53 234.50 279.61 235.03 C280.69 235.57 281.80 236.04 282.90 236.54 C283.99 237.04 285.09 237.53 286.19 238.02 C287.29 238.52 288.39 239.02 289.50 239.48 C290.62 239.94 291.75 240.36 292.87 240.79 C294.00 241.22 295.13 241.65 296.25 242.08 C297.38 242.50 298.49 242.97 299.63 243.36 C300.78 243.75 301.94 244.06 303.10 244.40 C304.25 244.74 305.41 245.07 306.57 245.41 C307.73 245.74 308.88 246.11 310.05 246.41 C311.21 246.71 312.40 246.94 313.58 247.19 C314.76 247.44 315.94 247.69 317.12 247.92 C318.30 248.16 319.48 248.40 320.67 248.61 C321.86 248.82 323.05 249.00 324.24 249.20 C325.43 249.39 326.62 249.59 327.81 249.78 C329.00 249.98 330.19 250.18 331.38 250.37 C332.57 250.56 333.76 250.75 334.95 250.93 C336.14 251.10 337.34 251.25 338.53 251.42 C339.73 251.58 340.92 251.74 342.12 251.90 C343.31 252.06 344.51 252.22 345.70 252.39 C346.89 252.56 348.09 252.74 349.28 252.94 C350.46 253.14 351.67 253.31 352.83 253.60 C353.99 253.89 355.14 254.21 356.23 254.69 C357.33 255.16 358.59 255.62 359.40 256.44 C360.21 257.26 360.64 258.51 361.09 259.61 C361.54 260.71 361.85 261.87 362.11 263.04 C362.38 264.20 362.48 265.42 362.67 266.61 C362.85 267.80 363.07 268.99 363.22 270.18 C363.37 271.38 363.50 272.58 363.59 273.78 C363.68 274.98 363.71 276.19 363.77 277.39 C363.83 278.59 363.89 279.80 363.95 281.00 C364.01 282.21 364.07 283.41 364.13 284.61 C364.19 285.82 364.25 287.02 364.31 288.23 C364.37 289.43 364.45 290.63 364.49 291.84 C364.53 293.04 364.54 294.25 364.57 295.46 C364.59 296.66 364.61 297.87 364.64 299.07 C364.66 300.28 364.68 301.48 364.71 302.69 C364.73 303.89 364.75 305.10 364.78 306.30 C364.80 307.51 364.82 308.71 364.85 309.92 C364.87 311.12 364.90 312.33 364.92 313.54 C364.94 314.74 364.97 315.95 364.99 317.15 C365.01 318.36 365.04 319.56 365.06 320.77 C365.08 321.97 365.11 323.18 365.13 324.38 C365.15 325.59 365.19 327.40 365.20 328.00" fill="none" stroke="#ff7c7c" stroke-width="0.85" stroke-linejoin="round"/>
<path d="M228.40 212.86 C228.70 213.37 229.39 215.12 230.19 215.95 C231.00 216.77 232.13 217.46 233.23 217.82 C234.34 218.17 235.63 217.99 236.82 218.07 C238.02 218.15 239.21 218.24 240.41 218.32 C241.61 218.39 242.81 218.43 244.00 218.52 C245.20 218.62 246.40 218.65 247.57 218.87 C248.74 219.08 249.88 219.51 251.04 219.83 C252.19 220.15 253.40 220.34 254.51 220.79 C255.61 221.24 256.60 221.93 257.64 222.52 C258.68 223.12 259.70 223.76 260.73 224.37 C261.76 224.98 262.79 225.59 263.83 226.20 C264.86 226.81 265.90 227.41 266.93 228.02 C267.96 228.63 269.00 229.23 270.03 229.85 C271.06 230.46 272.08 231.08 273.11 231.70 C274.14 232.32 275.15 232.97 276.19 233.56 C277.24 234.14 278.29 234.71 279.37 235.24 C280.44 235.77 281.54 236.25 282.63 236.75 C283.72 237.25 284.81 237.75 285.91 238.24 C287.00 238.73 288.09 239.23 289.20 239.69 C290.30 240.15 291.43 240.57 292.55 241.01 C293.66 241.44 294.79 241.86 295.91 242.28 C297.03 242.71 298.14 243.18 299.27 243.56 C300.41 243.95 301.57 244.25 302.72 244.59 C303.87 244.93 305.02 245.26 306.17 245.60 C307.32 245.93 308.47 246.30 309.63 246.60 C310.79 246.89 311.97 247.12 313.14 247.38 C314.31 247.63 315.48 247.88 316.66 248.12 C317.83 248.36 319.01 248.60 320.19 248.81 C321.37 249.03 322.55 249.21 323.74 249.41 C324.92 249.60 326.10 249.80 327.28 250.00 C328.47 250.20 329.65 250.41 330.83 250.60 C332.01 250.80 333.19 251.00 334.38 251.18 C335.56 251.36 336.75 251.52 337.94 251.68 C339.13 251.85 340.31 252.02 341.50 252.19 C342.69 252.36 343.87 252.52 345.06 252.69 C346.24 252.87 347.43 253.05 348.61 253.26 C349.79 253.47 350.99 253.65 352.13 253.95 C353.28 254.25 354.42 254.58 355.51 255.07 C356.59 255.55 357.83 256.01 358.63 256.84 C359.43 257.66 359.86 258.90 360.31 260.00 C360.76 261.09 361.08 262.24 361.34 263.40 C361.61 264.56 361.72 265.76 361.91 266.95 C362.09 268.13 362.31 269.31 362.47 270.50 C362.63 271.69 362.76 272.88 362.86 274.07 C362.95 275.27 362.99 276.47 363.05 277.66 C363.12 278.86 363.18 280.06 363.24 281.26 C363.31 282.45 363.37 283.65 363.43 284.85 C363.50 286.05 363.56 287.24 363.63 288.44 C363.69 289.64 363.77 290.83 363.82 292.03 C363.86 293.23 363.87 294.43 363.90 295.63 C363.93 296.83 363.95 298.03 363.97 299.22 C364.00 300.42 364.02 301.62 364.05 302.82 C364.07 304.02 364.10 305.22 364.12 306.42 C364.15 307.62 364.17 308.82 364.20 310.02 C364.22 311.21 364.24 312.41 364.27 313.61 C364.29 314.81 364.32 316.01 364.34 317.21 C364.37 318.41 364.39 319.61 364.42 320.81 C364.44 322.01 364.47 323.20 364.49 324.40 C364.51 325.60 364.55 327.40 364.56 328.00" fill="none" stroke="#8080ff" stroke-width="0.85" stroke-linejoin="round"/>
<path d="M228.40 214.57 C228.71 215.06 229.45 216.71 230.26 217.49 C231.07 218.27 232.18 218.91 233.26 219.24 C234.34 219.57 235.59 219.39 236.76 219.47 C237.92 219.55 239.09 219.62 240.26 219.69 C241.42 219.77 242.59 219.82 243.76 219.92 C244.92 220.01 246.10 220.04 247.24 220.25 C248.38 220.46 249.49 220.88 250.61 221.20 C251.73 221.53 252.90 221.76 253.97 222.19 C255.05 222.62 256.05 223.23 257.07 223.79 C258.09 224.35 259.09 224.97 260.10 225.57 C261.10 226.16 262.11 226.75 263.12 227.34 C264.13 227.93 265.15 228.51 266.15 229.10 C267.16 229.70 268.16 230.30 269.16 230.90 C270.16 231.51 271.16 232.12 272.16 232.72 C273.16 233.33 274.15 233.96 275.16 234.54 C276.17 235.12 277.20 235.68 278.24 236.21 C279.27 236.75 280.33 237.24 281.39 237.75 C282.44 238.25 283.49 238.75 284.55 239.25 C285.61 239.74 286.67 240.23 287.75 240.69 C288.82 241.15 289.90 241.59 290.99 242.02 C292.07 242.45 293.17 242.86 294.26 243.28 C295.36 243.69 296.44 244.14 297.54 244.51 C298.65 244.89 299.78 245.19 300.90 245.52 C302.02 245.85 303.15 246.17 304.27 246.50 C305.39 246.83 306.51 247.19 307.64 247.48 C308.77 247.78 309.91 248.02 311.05 248.28 C312.19 248.54 313.33 248.79 314.47 249.04 C315.62 249.29 316.76 249.54 317.90 249.76 C319.05 249.99 320.20 250.19 321.35 250.40 C322.50 250.61 323.65 250.82 324.80 251.03 C325.94 251.25 327.08 251.49 328.23 251.71 C329.38 251.93 330.52 252.15 331.67 252.36 C332.81 252.57 333.97 252.76 335.11 252.96 C336.26 253.16 337.41 253.36 338.56 253.55 C339.71 253.75 340.86 253.94 342.01 254.15 C343.16 254.36 344.30 254.56 345.44 254.81 C346.58 255.06 347.72 255.30 348.82 255.65 C349.93 255.99 351.02 256.36 352.05 256.87 C353.08 257.38 354.25 257.88 355.01 258.71 C355.77 259.53 356.16 260.74 356.60 261.81 C357.05 262.88 357.39 263.98 357.68 265.11 C357.96 266.23 358.08 267.41 358.29 268.56 C358.49 269.71 358.72 270.86 358.90 272.01 C359.08 273.16 359.25 274.31 359.38 275.47 C359.50 276.63 359.56 277.80 359.64 278.96 C359.73 280.13 359.80 281.29 359.88 282.46 C359.96 283.62 360.04 284.79 360.12 285.95 C360.21 287.12 360.29 288.29 360.37 289.45 C360.45 290.62 360.55 291.78 360.61 292.95 C360.67 294.11 360.70 295.28 360.73 296.45 C360.77 297.62 360.79 298.79 360.82 299.96 C360.85 301.12 360.88 302.29 360.91 303.46 C360.94 304.63 360.97 305.80 361.00 306.97 C361.03 308.14 361.06 309.30 361.09 310.47 C361.12 311.64 361.15 312.81 361.18 313.98 C361.21 315.15 361.24 316.31 361.27 317.48 C361.30 318.65 361.33 319.82 361.36 320.99 C361.39 322.16 361.42 323.33 361.45 324.49 C361.48 325.66 361.53 327.42 361.54 328.00" fill="none" stroke="#7ce47c" stroke-width="0.85" stroke-linejoin="round"/>
<path d="M228.40 217.36 C228.73 217.80 229.55 219.31 230.36 220.01 C231.18 220.72 232.25 221.28 233.30 221.57 C234.35 221.86 235.54 221.69 236.65 221.76 C237.77 221.82 238.89 221.87 240.01 221.95 C241.12 222.02 242.24 222.10 243.36 222.19 C244.47 222.28 245.60 222.29 246.70 222.51 C247.79 222.72 248.84 223.13 249.91 223.45 C250.98 223.78 252.07 224.07 253.11 224.47 C254.15 224.87 255.16 225.35 256.15 225.85 C257.14 226.36 258.09 226.96 259.07 227.52 C260.04 228.07 261.01 228.63 261.98 229.19 C262.95 229.75 263.92 230.30 264.89 230.87 C265.85 231.44 266.80 232.04 267.75 232.62 C268.71 233.21 269.66 233.80 270.61 234.39 C271.56 234.97 272.51 235.58 273.47 236.15 C274.43 236.72 275.41 237.27 276.39 237.80 C277.37 238.34 278.36 238.86 279.35 239.37 C280.34 239.89 281.34 240.40 282.34 240.89 C283.35 241.38 284.36 241.85 285.38 242.32 C286.40 242.78 287.42 243.25 288.45 243.68 C289.48 244.11 290.53 244.49 291.58 244.89 C292.63 245.29 293.67 245.71 294.73 246.06 C295.79 246.42 296.87 246.71 297.95 247.03 C299.02 247.35 300.09 247.66 301.17 247.98 C302.24 248.29 303.31 248.63 304.39 248.93 C305.47 249.22 306.56 249.48 307.65 249.75 C308.73 250.02 309.82 250.28 310.91 250.54 C311.99 250.80 313.08 251.07 314.17 251.31 C315.26 251.56 316.36 251.79 317.45 252.02 C318.54 252.26 319.64 252.47 320.73 252.72 C321.82 252.97 322.90 253.25 323.99 253.51 C325.07 253.77 326.16 254.04 327.24 254.30 C328.33 254.55 329.42 254.80 330.50 255.04 C331.59 255.29 332.68 255.54 333.77 255.78 C334.86 256.03 335.95 256.26 337.03 256.52 C338.11 256.78 339.20 257.03 340.27 257.34 C341.33 257.66 342.40 258.00 343.42 258.41 C344.44 258.82 345.46 259.25 346.41 259.81 C347.35 260.37 348.41 260.93 349.10 261.76 C349.79 262.58 350.12 263.75 350.55 264.77 C350.98 265.80 351.39 266.83 351.69 267.90 C352.00 268.97 352.16 270.09 352.39 271.18 C352.62 272.28 352.87 273.37 353.08 274.46 C353.30 275.56 353.53 276.65 353.70 277.75 C353.86 278.86 353.96 279.97 354.08 281.08 C354.19 282.19 354.29 283.31 354.40 284.42 C354.51 285.53 354.62 286.65 354.73 287.76 C354.83 288.87 354.94 289.99 355.05 291.10 C355.16 292.21 355.29 293.33 355.37 294.44 C355.46 295.56 355.51 296.67 355.56 297.79 C355.61 298.91 355.64 300.03 355.68 301.15 C355.72 302.27 355.76 303.38 355.79 304.50 C355.83 305.62 355.87 306.74 355.91 307.86 C355.95 308.98 355.99 310.10 356.03 311.22 C356.07 312.34 356.11 313.45 356.15 314.57 C356.18 315.69 356.22 316.81 356.26 317.93 C356.30 319.05 356.34 320.17 356.38 321.29 C356.42 322.41 356.46 323.52 356.50 324.64 C356.54 325.76 356.59 327.44 356.61 328.00" fill="none" stroke="#ffb47e" stroke-width="0.85" stroke-linejoin="round"/>
<path d="M228.40 219.25 C228.74 219.66 229.61 221.08 230.43 221.72 C231.25 222.37 232.30 222.88 233.33 223.14 C234.35 223.40 235.50 223.25 236.58 223.31 C237.67 223.36 238.75 223.40 239.84 223.47 C240.92 223.54 242.00 223.63 243.09 223.73 C244.17 223.82 245.27 223.82 246.33 224.03 C247.39 224.24 248.40 224.65 249.44 224.98 C250.47 225.31 251.51 225.64 252.52 226.02 C253.54 226.39 254.55 226.78 255.52 227.25 C256.50 227.73 257.42 228.31 258.37 228.84 C259.31 229.37 260.26 229.91 261.20 230.45 C262.14 230.99 263.10 231.51 264.03 232.07 C264.96 232.63 265.87 233.21 266.80 233.79 C267.72 234.36 268.64 234.94 269.56 235.51 C270.48 236.09 271.39 236.68 272.32 237.24 C273.25 237.80 274.20 238.34 275.14 238.88 C276.08 239.42 277.02 239.96 277.97 240.48 C278.92 241.00 279.88 241.51 280.85 242.01 C281.81 242.50 282.80 242.96 283.78 243.42 C284.76 243.89 285.73 244.38 286.73 244.80 C287.73 245.23 288.75 245.60 289.76 245.99 C290.78 246.37 291.79 246.77 292.82 247.11 C293.85 247.46 294.90 247.74 295.94 248.05 C296.98 248.36 298.02 248.67 299.07 248.98 C300.11 249.29 301.14 249.61 302.19 249.91 C303.23 250.20 304.29 250.47 305.34 250.74 C306.39 251.02 307.44 251.29 308.49 251.56 C309.54 251.83 310.59 252.11 311.65 252.37 C312.70 252.63 313.76 252.88 314.81 253.12 C315.87 253.37 316.93 253.60 317.98 253.86 C319.03 254.13 320.07 254.44 321.12 254.73 C322.16 255.02 323.20 255.32 324.25 255.61 C325.29 255.89 326.34 256.17 327.38 256.45 C328.43 256.73 329.47 257.01 330.52 257.29 C331.57 257.57 332.62 257.84 333.66 258.13 C334.70 258.43 335.75 258.70 336.77 259.06 C337.78 259.42 338.79 259.82 339.76 260.28 C340.73 260.73 341.70 261.21 342.59 261.80 C343.47 262.39 344.45 262.99 345.09 263.82 C345.74 264.65 346.03 265.78 346.45 266.78 C346.88 267.77 347.32 268.76 347.64 269.79 C347.96 270.83 348.14 271.91 348.39 272.96 C348.64 274.02 348.90 275.07 349.14 276.13 C349.38 277.18 349.65 278.23 349.85 279.30 C350.04 280.36 350.17 281.44 350.31 282.52 C350.45 283.59 350.56 284.67 350.69 285.75 C350.81 286.83 350.94 287.91 351.07 288.98 C351.19 290.06 351.32 291.14 351.45 292.22 C351.57 293.30 351.73 294.37 351.83 295.45 C351.93 296.53 352.00 297.61 352.06 298.70 C352.12 299.78 352.15 300.87 352.19 301.95 C352.24 303.04 352.28 304.12 352.33 305.21 C352.37 306.30 352.42 307.38 352.46 308.47 C352.51 309.55 352.55 310.64 352.60 311.72 C352.64 312.81 352.69 313.89 352.73 314.98 C352.78 316.06 352.82 317.15 352.87 318.23 C352.91 319.32 352.96 320.40 353.00 321.49 C353.05 322.57 353.09 323.66 353.14 324.74 C353.18 325.83 353.25 327.46 353.28 328.00" fill="none" stroke="#b47cff" stroke-width="0.85" stroke-linejoin="round"/>
<path d="M228.40 221.50 C228.75 221.88 229.69 223.17 230.52 223.76 C231.34 224.34 232.37 224.78 233.36 225.02 C234.36 225.25 235.45 225.11 236.50 225.15 C237.55 225.19 238.59 225.22 239.64 225.28 C240.68 225.35 241.72 225.46 242.76 225.56 C243.81 225.65 244.87 225.65 245.89 225.85 C246.91 226.06 247.88 226.46 248.87 226.79 C249.86 227.12 250.84 227.50 251.82 227.86 C252.81 228.21 253.83 228.49 254.78 228.92 C255.73 229.35 256.62 229.91 257.54 230.42 C258.45 230.92 259.36 231.43 260.28 231.95 C261.19 232.46 262.11 232.96 263.01 233.49 C263.90 234.03 264.77 234.62 265.66 235.18 C266.54 235.74 267.43 236.30 268.31 236.86 C269.19 237.42 270.07 237.99 270.96 238.54 C271.85 239.09 272.75 239.62 273.65 240.16 C274.54 240.71 275.43 241.26 276.33 241.79 C277.24 242.32 278.14 242.84 279.06 243.33 C279.99 243.82 280.94 244.27 281.87 244.74 C282.81 245.20 283.73 245.71 284.68 246.14 C285.64 246.57 286.62 246.92 287.60 247.29 C288.58 247.66 289.56 248.03 290.55 248.36 C291.54 248.69 292.55 248.97 293.56 249.27 C294.56 249.57 295.56 249.87 296.56 250.17 C297.57 250.47 298.57 250.78 299.57 251.07 C300.57 251.36 301.58 251.64 302.59 251.93 C303.60 252.21 304.61 252.49 305.61 252.77 C306.62 253.05 307.63 253.34 308.64 253.62 C309.65 253.90 310.66 254.17 311.67 254.43 C312.68 254.70 313.70 254.93 314.71 255.22 C315.71 255.52 316.70 255.86 317.70 256.19 C318.69 256.51 319.68 256.84 320.68 257.17 C321.67 257.49 322.67 257.81 323.67 258.13 C324.66 258.45 325.66 258.77 326.66 259.09 C327.65 259.41 328.66 259.71 329.65 260.05 C330.64 260.38 331.64 260.69 332.60 261.10 C333.56 261.51 334.50 261.99 335.40 262.50 C336.31 263.02 337.22 263.54 338.04 264.17 C338.86 264.80 339.73 265.45 340.32 266.28 C340.91 267.11 341.16 268.20 341.57 269.16 C341.99 270.12 342.47 271.06 342.81 272.05 C343.16 273.03 343.36 274.07 343.63 275.08 C343.90 276.09 344.18 277.10 344.45 278.11 C344.72 279.12 345.04 280.12 345.27 281.14 C345.50 282.16 345.65 283.19 345.82 284.23 C345.99 285.26 346.12 286.30 346.27 287.33 C346.42 288.37 346.56 289.41 346.71 290.44 C346.86 291.48 347.01 292.51 347.16 293.55 C347.31 294.58 347.49 295.62 347.61 296.66 C347.73 297.69 347.82 298.74 347.89 299.78 C347.96 300.82 347.99 301.87 348.05 302.92 C348.10 303.96 348.15 305.01 348.20 306.05 C348.25 307.10 348.31 308.14 348.36 309.19 C348.41 310.23 348.46 311.28 348.52 312.32 C348.57 313.37 348.62 314.41 348.67 315.46 C348.73 316.50 348.78 317.55 348.83 318.59 C348.88 319.64 348.93 320.68 348.99 321.73 C349.04 322.77 349.09 323.82 349.14 324.86 C349.20 325.91 349.27 327.48 349.30 328.00" fill="none" stroke="#6cb8b0" stroke-width="0.85" stroke-linejoin="round"/>
<path d="M228.40 241.80 C228.99 241.79 230.75 241.76 231.93 241.75 C233.10 241.73 234.28 241.71 235.46 241.69 C236.63 241.67 237.81 241.64 238.98 241.62 C240.16 241.60 241.34 241.57 242.51 241.55 C243.69 241.53 244.86 241.50 246.04 241.48 C247.22 241.46 248.39 241.43 249.57 241.41 C250.74 241.39 251.92 241.37 253.10 241.34 C254.27 241.31 255.45 241.27 256.62 241.22 C257.80 241.17 258.97 241.10 260.15 241.04 C261.32 240.98 262.50 240.97 263.67 240.87 C264.84 240.76 266.00 240.60 267.17 240.43 C268.33 240.26 269.48 240.01 270.64 239.83 C271.81 239.65 272.97 239.50 274.14 239.36 C275.31 239.21 276.48 239.11 277.65 238.96 C278.81 238.82 279.98 238.68 281.14 238.49 C282.30 238.31 283.46 238.08 284.61 237.87 C285.77 237.66 286.94 237.48 288.09 237.24 C289.24 237.00 290.38 236.74 291.51 236.43 C292.65 236.12 293.76 235.73 294.88 235.39 C296.01 235.04 297.14 234.72 298.26 234.34 C299.37 233.96 300.47 233.56 301.56 233.13 C302.66 232.69 303.72 232.20 304.81 231.73 C305.89 231.27 306.98 230.83 308.05 230.34 C309.11 229.85 310.17 229.34 311.20 228.78 C312.23 228.22 313.22 227.57 314.23 226.96 C315.24 226.36 316.24 225.74 317.26 225.16 C318.28 224.58 319.34 224.06 320.36 223.48 C321.39 222.90 322.38 222.27 323.39 221.67 C324.40 221.06 325.41 220.47 326.42 219.85 C327.42 219.24 328.41 218.60 329.41 217.98 C330.40 217.35 331.40 216.72 332.39 216.09 C333.37 215.45 334.34 214.77 335.34 214.15 C336.34 213.53 337.36 212.95 338.38 212.37 C339.40 211.78 340.39 211.13 341.45 210.64 C342.52 210.15 343.65 209.81 344.76 209.43 C345.87 209.04 346.98 208.65 348.11 208.32 C349.24 208.00 350.39 207.74 351.54 207.48 C352.69 207.22 353.83 206.95 354.99 206.77 C356.15 206.59 357.92 206.46 358.50 206.40" fill="none" stroke="#6c5c7c" stroke-width="0.85" stroke-linejoin="round"/>
<line x1="358.50" y1="206.50" x2="355.00" y2="206.50" stroke="#6c5c7c" stroke-width="0.90"/>
<path d="M228.40 241.30 C228.98 241.29 230.72 241.26 231.87 241.24 C233.03 241.22 234.19 241.20 235.35 241.17 C236.51 241.15 237.66 241.13 238.82 241.10 C239.98 241.08 241.14 241.06 242.30 241.03 C243.45 241.01 244.61 240.99 245.77 240.96 C246.93 240.94 248.09 240.92 249.24 240.90 C250.40 240.87 251.56 240.86 252.72 240.83 C253.87 240.80 255.03 240.76 256.19 240.72 C257.35 240.67 258.50 240.61 259.66 240.55 C260.82 240.50 261.98 240.48 263.13 240.38 C264.28 240.29 265.43 240.13 266.57 239.97 C267.72 239.81 268.86 239.58 270.00 239.41 C271.15 239.23 272.29 239.08 273.44 238.94 C274.59 238.79 275.75 238.69 276.89 238.54 C278.04 238.40 279.19 238.25 280.33 238.07 C281.48 237.88 282.61 237.65 283.75 237.44 C284.89 237.23 286.04 237.06 287.17 236.82 C288.30 236.58 289.43 236.32 290.54 236.02 C291.66 235.71 292.76 235.34 293.87 235.00 C294.97 234.66 296.09 234.35 297.19 233.98 C298.28 233.61 299.37 233.21 300.45 232.79 C301.52 232.36 302.58 231.88 303.64 231.43 C304.71 230.97 305.78 230.53 306.83 230.05 C307.88 229.57 308.93 229.07 309.95 228.52 C310.96 227.97 311.94 227.35 312.94 226.76 C313.94 226.17 314.93 225.57 315.94 225.01 C316.95 224.44 317.99 223.93 319.00 223.36 C320.00 222.79 320.99 222.18 321.98 221.58 C322.98 220.99 323.98 220.41 324.97 219.81 C325.96 219.21 326.94 218.59 327.92 217.98 C328.91 217.37 329.89 216.76 330.87 216.14 C331.85 215.52 332.80 214.87 333.79 214.26 C334.77 213.66 335.78 213.08 336.78 212.50 C337.78 211.92 338.76 211.28 339.80 210.79 C340.85 210.30 341.96 209.95 343.04 209.55 C344.12 209.15 345.21 208.75 346.31 208.41 C347.42 208.07 348.54 207.79 349.66 207.52 C350.78 207.24 351.91 206.97 353.05 206.78 C354.19 206.60 355.93 206.46 356.50 206.40" fill="none" stroke="#ff7c7c" stroke-width="0.85" stroke-linejoin="round"/>
<line x1="356.50" y1="206.50" x2="360.00" y2="206.50" stroke="#ff7c7c" stroke-width="0.90"/>
<path d="M228.40 240.54 C228.97 240.53 230.66 240.49 231.79 240.47 C232.92 240.45 234.05 240.42 235.18 240.40 C236.32 240.38 237.45 240.35 238.58 240.33 C239.71 240.31 240.84 240.28 241.97 240.26 C243.10 240.24 244.23 240.22 245.36 240.19 C246.49 240.17 247.62 240.15 248.76 240.13 C249.89 240.10 251.02 240.09 252.15 240.06 C253.28 240.04 254.41 240.00 255.54 239.96 C256.67 239.92 257.80 239.87 258.93 239.82 C260.06 239.77 261.19 239.75 262.32 239.66 C263.45 239.57 264.57 239.43 265.69 239.28 C266.81 239.13 267.92 238.93 269.04 238.77 C270.16 238.60 271.28 238.45 272.40 238.30 C273.52 238.16 274.65 238.05 275.77 237.90 C276.89 237.76 278.01 237.61 279.12 237.43 C280.24 237.24 281.35 237.01 282.46 236.80 C283.57 236.59 284.69 236.41 285.79 236.18 C286.90 235.94 288.00 235.69 289.09 235.39 C290.18 235.10 291.26 234.74 292.34 234.41 C293.42 234.09 294.52 233.79 295.59 233.44 C296.66 233.08 297.72 232.69 298.77 232.27 C299.82 231.86 300.86 231.41 301.90 230.96 C302.94 230.52 303.99 230.09 305.02 229.62 C306.04 229.15 307.06 228.67 308.06 228.14 C309.06 227.61 310.02 227.02 311.01 226.46 C311.99 225.90 312.96 225.32 313.95 224.78 C314.94 224.23 315.95 223.73 316.94 223.17 C317.93 222.62 318.89 222.03 319.87 221.46 C320.85 220.89 321.83 220.33 322.80 219.75 C323.77 219.17 324.73 218.58 325.70 217.99 C326.66 217.41 327.63 216.82 328.59 216.23 C329.55 215.63 330.50 215.01 331.46 214.43 C332.43 213.84 333.41 213.28 334.39 212.71 C335.37 212.14 336.32 211.52 337.33 211.02 C338.34 210.52 339.41 210.15 340.45 209.73 C341.50 209.32 342.55 208.90 343.61 208.54 C344.68 208.18 345.75 207.86 346.84 207.57 C347.92 207.27 349.02 206.99 350.14 206.80 C351.25 206.61 352.94 206.47 353.50 206.40" fill="none" stroke="#8080ff" stroke-width="0.85" stroke-linejoin="round"/>
<line x1="353.50" y1="206.50" x2="366.50" y2="206.50" stroke="#8080ff" stroke-width="0.90"/>
<path d="M228.40 239.85 C228.95 239.83 230.61 239.80 231.72 239.77 C232.82 239.74 233.93 239.72 235.04 239.69 C236.14 239.67 237.25 239.64 238.35 239.62 C239.46 239.59 240.57 239.57 241.67 239.55 C242.78 239.53 243.88 239.51 244.99 239.49 C246.10 239.46 247.20 239.44 248.31 239.42 C249.42 239.40 250.52 239.39 251.63 239.36 C252.73 239.34 253.84 239.31 254.94 239.27 C256.05 239.23 257.16 239.19 258.26 239.14 C259.37 239.09 260.47 239.07 261.58 238.99 C262.68 238.91 263.78 238.79 264.87 238.65 C265.97 238.52 267.06 238.34 268.15 238.18 C269.25 238.03 270.34 237.87 271.44 237.72 C272.54 237.58 273.64 237.47 274.73 237.32 C275.83 237.17 276.92 237.03 278.01 236.84 C279.10 236.66 280.19 236.42 281.27 236.22 C282.36 236.01 283.45 235.82 284.53 235.59 C285.61 235.36 286.69 235.11 287.76 234.82 C288.82 234.54 289.88 234.19 290.94 233.88 C292.00 233.57 293.07 233.29 294.12 232.94 C295.17 232.59 296.21 232.21 297.24 231.81 C298.27 231.41 299.28 230.97 300.30 230.54 C301.32 230.11 302.34 229.68 303.35 229.22 C304.35 228.76 305.35 228.29 306.34 227.79 C307.32 227.28 308.27 226.71 309.23 226.18 C310.20 225.64 311.16 225.09 312.13 224.57 C313.10 224.04 314.09 223.54 315.06 223.00 C316.02 222.47 316.97 221.90 317.93 221.35 C318.89 220.80 319.85 220.25 320.81 219.70 C321.76 219.14 322.71 218.57 323.66 218.00 C324.61 217.44 325.56 216.88 326.51 216.30 C327.45 215.73 328.39 215.14 329.33 214.57 C330.28 214.01 331.24 213.46 332.20 212.90 C333.15 212.34 334.08 211.73 335.06 211.23 C336.05 210.73 337.07 210.33 338.09 209.91 C339.10 209.48 340.11 209.05 341.14 208.66 C342.16 208.28 343.19 207.92 344.25 207.61 C345.30 207.30 346.38 207.02 347.46 206.82 C348.55 206.61 350.20 206.47 350.75 206.40" fill="none" stroke="#7ce47c" stroke-width="0.85" stroke-linejoin="round"/>
<line x1="350.75" y1="206.50" x2="361.60" y2="206.50" stroke="#7ce47c" stroke-width="0.90"/>
<path d="M228.40 238.65 C228.93 238.63 230.53 238.59 231.59 238.56 C232.65 238.53 233.71 238.49 234.78 238.47 C235.84 238.44 236.90 238.41 237.97 238.39 C239.03 238.37 240.09 238.35 241.16 238.33 C242.22 238.31 243.28 238.28 244.35 238.26 C245.41 238.24 246.47 238.22 247.54 238.20 C248.60 238.18 249.66 238.17 250.73 238.15 C251.79 238.13 252.85 238.11 253.92 238.08 C254.98 238.05 256.04 238.02 257.10 237.98 C258.17 237.94 259.23 237.91 260.29 237.84 C261.35 237.77 262.41 237.67 263.46 237.56 C264.52 237.45 265.57 237.31 266.63 237.17 C267.68 237.03 268.73 236.87 269.78 236.72 C270.84 236.58 271.89 236.46 272.95 236.31 C274.00 236.16 275.05 236.01 276.10 235.83 C277.14 235.64 278.18 235.41 279.23 235.20 C280.27 234.99 281.32 234.81 282.35 234.58 C283.39 234.35 284.43 234.11 285.45 233.84 C286.48 233.57 287.50 233.25 288.52 232.96 C289.54 232.67 290.58 232.41 291.59 232.08 C292.60 231.75 293.59 231.37 294.58 231.00 C295.58 230.62 296.56 230.22 297.54 229.81 C298.52 229.40 299.50 228.97 300.47 228.53 C301.44 228.10 302.40 227.65 303.35 227.18 C304.30 226.71 305.23 226.19 306.17 225.70 C307.11 225.20 308.04 224.70 308.98 224.20 C309.92 223.70 310.87 223.22 311.80 222.71 C312.74 222.21 313.66 221.68 314.59 221.16 C315.52 220.64 316.45 220.12 317.37 219.60 C318.30 219.08 319.22 218.55 320.14 218.02 C321.06 217.49 321.98 216.97 322.90 216.44 C323.82 215.91 324.74 215.37 325.66 214.83 C326.57 214.30 327.49 213.77 328.41 213.23 C329.32 212.69 330.22 212.10 331.15 211.59 C332.08 211.09 333.04 210.65 333.99 210.20 C334.94 209.75 335.90 209.29 336.86 208.87 C337.83 208.45 338.78 208.03 339.78 207.69 C340.78 207.35 341.81 207.06 342.85 206.84 C343.88 206.63 345.47 206.47 346.00 206.40" fill="none" stroke="#ffb47e" stroke-width="0.85" stroke-linejoin="round"/>
<line x1="346.00" y1="206.50" x2="357.50" y2="206.50" stroke="#ffb47e" stroke-width="0.90"/>
<path d="M228.40 237.39 C228.91 237.37 230.44 237.32 231.45 237.28 C232.47 237.25 233.49 237.21 234.51 237.18 C235.52 237.15 236.54 237.12 237.56 237.10 C238.58 237.08 239.60 237.06 240.62 237.04 C241.63 237.02 242.65 237.00 243.67 236.98 C244.69 236.96 245.71 236.94 246.72 236.92 C247.74 236.90 248.76 236.89 249.78 236.88 C250.80 236.86 251.82 236.84 252.83 236.82 C253.85 236.80 254.87 236.78 255.89 236.75 C256.91 236.72 257.92 236.69 258.94 236.63 C259.96 236.58 260.97 236.50 261.98 236.42 C263.00 236.33 264.01 236.23 265.02 236.11 C266.03 235.98 267.03 235.81 268.04 235.67 C269.05 235.53 270.06 235.40 271.07 235.25 C272.07 235.10 273.08 234.95 274.08 234.76 C275.08 234.58 276.07 234.35 277.07 234.14 C278.07 233.93 279.07 233.73 280.06 233.51 C281.05 233.29 282.04 233.05 283.03 232.80 C284.01 232.54 284.99 232.26 285.97 231.99 C286.96 231.72 287.95 231.48 288.92 231.18 C289.89 230.87 290.84 230.50 291.79 230.14 C292.74 229.78 293.70 229.42 294.64 229.03 C295.58 228.65 296.51 228.23 297.44 227.81 C298.37 227.40 299.29 226.98 300.21 226.54 C301.13 226.10 302.04 225.64 302.95 225.19 C303.86 224.74 304.77 224.28 305.67 223.82 C306.58 223.35 307.48 222.88 308.38 222.41 C309.28 221.93 310.17 221.44 311.07 220.95 C311.96 220.47 312.86 219.99 313.75 219.50 C314.65 219.02 315.54 218.52 316.43 218.04 C317.32 217.55 318.22 217.07 319.11 216.58 C320.00 216.09 320.90 215.61 321.78 215.11 C322.67 214.60 323.55 214.09 324.42 213.57 C325.30 213.05 326.15 212.48 327.02 211.97 C327.90 211.46 328.79 210.99 329.68 210.51 C330.57 210.03 331.46 209.54 332.36 209.09 C333.26 208.63 334.14 208.14 335.08 207.77 C336.01 207.40 337.00 207.10 337.99 206.87 C338.97 206.64 340.50 206.48 341.00 206.40" fill="none" stroke="#b47cff" stroke-width="0.85" stroke-linejoin="round"/>
<line x1="341.00" y1="206.50" x2="354.30" y2="206.50" stroke="#b47cff" stroke-width="0.90"/>
<path d="M228.40 235.50 C228.87 235.48 230.30 235.41 231.25 235.37 C232.20 235.33 233.15 235.28 234.10 235.24 C235.05 235.21 236.00 235.18 236.95 235.16 C237.90 235.14 238.85 235.12 239.80 235.10 C240.75 235.08 241.70 235.07 242.65 235.05 C243.60 235.03 244.55 235.01 245.51 234.99 C246.46 234.98 247.41 234.98 248.36 234.97 C249.31 234.96 250.26 234.95 251.21 234.94 C252.16 234.93 253.11 234.93 254.06 234.91 C255.01 234.89 255.96 234.85 256.91 234.82 C257.86 234.78 258.81 234.75 259.76 234.70 C260.71 234.64 261.66 234.61 262.61 234.51 C263.55 234.41 264.49 234.23 265.43 234.09 C266.37 233.94 267.31 233.82 268.25 233.66 C269.19 233.51 270.12 233.35 271.05 233.16 C271.99 232.98 272.91 232.75 273.84 232.54 C274.77 232.33 275.69 232.13 276.62 231.91 C277.55 231.69 278.47 231.47 279.39 231.24 C280.32 231.01 281.23 230.77 282.16 230.53 C283.08 230.29 284.01 230.10 284.92 229.82 C285.83 229.54 286.71 229.19 287.60 228.86 C288.50 228.54 289.40 228.23 290.28 227.88 C291.16 227.52 292.02 227.11 292.89 226.73 C293.76 226.35 294.63 225.96 295.50 225.58 C296.37 225.20 297.25 224.82 298.11 224.43 C298.98 224.04 299.85 223.66 300.70 223.24 C301.56 222.83 302.40 222.38 303.25 221.94 C304.09 221.51 304.94 221.08 305.79 220.65 C306.63 220.22 307.48 219.78 308.33 219.35 C309.17 218.92 310.02 218.49 310.87 218.06 C311.72 217.64 312.57 217.21 313.42 216.79 C314.27 216.36 315.14 215.96 315.97 215.51 C316.81 215.06 317.63 214.58 318.44 214.09 C319.25 213.59 320.04 213.06 320.84 212.55 C321.64 212.03 322.43 211.50 323.22 210.97 C324.02 210.45 324.81 209.93 325.61 209.41 C326.41 208.90 327.17 208.31 328.02 207.89 C328.87 207.48 329.79 207.16 330.70 206.91 C331.61 206.66 333.03 206.49 333.50 206.40" fill="none" stroke="#7cbc7c" stroke-width="0.85" stroke-linejoin="round"/>
<line x1="333.50" y1="206.50" x2="349.50" y2="206.50" stroke="#7cbc7c" stroke-width="0.90"/>
<line x1="247.70" y1="261.50" x2="262.70" y2="261.50" stroke="#aaaaaa" stroke-width="1.00"/>
<text x="266.00" y="263.80" font-size="7.80" text-anchor="start" textLength="9.60" lengthAdjust="spacingAndGlyphs">1st</text>
<line x1="247.70" y1="270.50" x2="262.70" y2="270.50" stroke="#ff9a9a" stroke-width="1.00"/>
<text x="266.00" y="272.23" font-size="7.80" text-anchor="start" textLength="14.00" lengthAdjust="spacingAndGlyphs">10th</text>
<line x1="247.70" y1="278.50" x2="262.70" y2="278.50" stroke="#9a9aff" stroke-width="1.00"/>
<text x="266.00" y="280.66" font-size="7.80" text-anchor="start" textLength="14.00" lengthAdjust="spacingAndGlyphs">20th</text>
<line x1="247.70" y1="287.50" x2="262.70" y2="287.50" stroke="#9af09a" stroke-width="1.00"/>
<text x="266.00" y="289.09" font-size="7.80" text-anchor="start" textLength="14.00" lengthAdjust="spacingAndGlyphs">40th</text>
<line x1="247.70" y1="295.50" x2="262.70" y2="295.50" stroke="#ffc49a" stroke-width="1.00"/>
<text x="266.00" y="297.52" font-size="7.80" text-anchor="start" textLength="14.00" lengthAdjust="spacingAndGlyphs">60th</text>
<line x1="247.70" y1="304.50" x2="262.70" y2="304.50" stroke="#bc9aff" stroke-width="1.00"/>
<text x="266.00" y="305.95" font-size="7.80" text-anchor="start" textLength="14.00" lengthAdjust="spacingAndGlyphs">80th</text>
<line x1="247.70" y1="312.50" x2="262.70" y2="312.50" stroke="#94c8a4" stroke-width="1.00"/>
<text x="266.00" y="314.38" font-size="7.80" text-anchor="start" textLength="17.90" lengthAdjust="spacingAndGlyphs">100th</text>
<text x="400.30" y="17.90" font-size="20.00" text-anchor="start" class="bl">d</text>
<rect x="447.50" y="29.50" width="189.00" height="271.00" fill="none" stroke="#b4b4b4" stroke-width="1"/>
<line x1="447.50" y1="119.50" x2="636.50" y2="119.50" stroke="#b4b4b4" stroke-width="1.00"/>
<line x1="447.50" y1="210.50" x2="636.50" y2="210.50" stroke="#b4b4b4" stroke-width="1.00"/>
<line x1="447.50" y1="300.50" x2="447.50" y2="303.50" stroke="#a8a8a8" stroke-width="1.00"/>
<line x1="459.33" y1="119.50" x2="459.33" y2="118.50" stroke="#a8a8a8" stroke-width="0.80"/>
<line x1="471.37" y1="119.50" x2="471.37" y2="118.50" stroke="#a8a8a8" stroke-width="0.80"/>
<line x1="483.40" y1="119.50" x2="483.40" y2="117.50" stroke="#a8a8a8" stroke-width="0.80"/>
<line x1="495.43" y1="119.50" x2="495.43" y2="118.50" stroke="#a8a8a8" stroke-width="0.80"/>
<line x1="507.47" y1="119.50" x2="507.47" y2="118.50" stroke="#a8a8a8" stroke-width="0.80"/>
<line x1="519.50" y1="119.50" x2="519.50" y2="117.50" stroke="#a8a8a8" stroke-width="0.80"/>
<line x1="531.53" y1="119.50" x2="531.53" y2="118.50" stroke="#a8a8a8" stroke-width="0.80"/>
<line x1="543.57" y1="119.50" x2="543.57" y2="118.50" stroke="#a8a8a8" stroke-width="0.80"/>
<line x1="555.60" y1="119.50" x2="555.60" y2="117.50" stroke="#a8a8a8" stroke-width="0.80"/>
<line x1="567.63" y1="119.50" x2="567.63" y2="118.50" stroke="#a8a8a8" stroke-width="0.80"/>
<line x1="579.67" y1="119.50" x2="579.67" y2="118.50" stroke="#a8a8a8" stroke-width="0.80"/>
<line x1="591.70" y1="119.50" x2="591.70" y2="117.50" stroke="#a8a8a8" stroke-width="0.80"/>
<line x1="603.73" y1="119.50" x2="603.73" y2="118.50" stroke="#a8a8a8" stroke-width="0.80"/>
<line x1="615.77" y1="119.50" x2="615.77" y2="118.50" stroke="#a8a8a8" stroke-width="0.80"/>
<line x1="627.80" y1="119.50" x2="627.80" y2="117.50" stroke="#a8a8a8" stroke-width="0.80"/>
<line x1="459.33" y1="210.50" x2="459.33" y2="209.50" stroke="#a8a8a8" stroke-width="0.80"/>
<line x1="471.37" y1="210.50" x2="471.37" y2="209.50" stroke="#a8a8a8" stroke-width="0.80"/>
<line x1="483.40" y1="210.50" x2="483.40" y2="208.50" stroke="#a8a8a8" stroke-width="0.80"/>
<line x1="495.43" y1="210.50" x2="495.43" y2="209.50" stroke="#a8a8a8" stroke-width="0.80"/>
<line x1="507.47" y1="210.50" x2="507.47" y2="209.50" stroke="#a8a8a8" stroke-width="0.80"/>
<line x1="519.50" y1="210.50" x2="519.50" y2="208.50" stroke="#a8a8a8" stroke-width="0.80"/>
<line x1="531.53" y1="210.50" x2="531.53" y2="209.50" stroke="#a8a8a8" stroke-width="0.80"/>
<line x1="543.57" y1="210.50" x2="543.57" y2="209.50" stroke="#a8a8a8" stroke-width="0.80"/>
<line x1="555.60" y1="210.50" x2="555.60" y2="208.50" stroke="#a8a8a8" stroke-width="0.80"/>
<line x1="567.63" y1="210.50" x2="567.63" y2="209.50" stroke="#a8a8a8" stroke-width="0.80"/>
<line x1="579.67" y1="210.50" x2="579.67" y2="209.50" stroke="#a8a8a8" stroke-width="0.80"/>
<line x1="591.70" y1="210.50" x2="591.70" y2="208.50" stroke="#a8a8a8" stroke-width="0.80"/>
<line x1="603.73" y1="210.50" x2="603.73" y2="209.50" stroke="#a8a8a8" stroke-width="0.80"/>
<line x1="615.77" y1="210.50" x2="615.77" y2="209.50" stroke="#a8a8a8" stroke-width="0.80"/>
<line x1="627.80" y1="210.50" x2="627.80" y2="208.50" stroke="#a8a8a8" stroke-width="0.80"/>
<line x1="465.35" y1="300.50" x2="465.35" y2="302.10" stroke="#a8a8a8" stroke-width="0.80"/>
<line x1="483.40" y1="300.50" x2="483.40" y2="303.30" stroke="#a8a8a8" stroke-width="0.80"/>
<line x1="501.45" y1="300.50" x2="501.45" y2="302.10" stroke="#a8a8a8" stroke-width="0.80"/>
<line x1="519.50" y1="300.50" x2="519.50" y2="303.30" stroke="#a8a8a8" stroke-width="0.80"/>
<line x1="537.55" y1="300.50" x2="537.55" y2="302.10" stroke="#a8a8a8" stroke-width="0.80"/>
<line x1="555.60" y1="300.50" x2="555.60" y2="303.30" stroke="#a8a8a8" stroke-width="0.80"/>
<line x1="573.65" y1="300.50" x2="573.65" y2="302.10" stroke="#a8a8a8" stroke-width="0.80"/>
<line x1="591.70" y1="300.50" x2="591.70" y2="303.30" stroke="#a8a8a8" stroke-width="0.80"/>
<line x1="609.75" y1="300.50" x2="609.75" y2="302.10" stroke="#a8a8a8" stroke-width="0.80"/>
<line x1="627.80" y1="300.50" x2="627.80" y2="303.30" stroke="#a8a8a8" stroke-width="0.80"/>
<text x="447.30" y="314.20" font-size="8.60" text-anchor="middle" textLength="3.85" lengthAdjust="spacingAndGlyphs" class="tl">0</text>
<text x="483.40" y="314.20" font-size="8.60" text-anchor="middle" textLength="7.70" lengthAdjust="spacingAndGlyphs" class="tl">20</text>
<text x="519.50" y="314.20" font-size="8.60" text-anchor="middle" textLength="7.70" lengthAdjust="spacingAndGlyphs" class="tl">40</text>
<text x="555.60" y="314.20" font-size="8.60" text-anchor="middle" textLength="7.70" lengthAdjust="spacingAndGlyphs" class="tl">60</text>
<text x="591.70" y="314.20" font-size="8.60" text-anchor="middle" textLength="7.70" lengthAdjust="spacingAndGlyphs" class="tl">80</text>
<text x="627.80" y="314.20" font-size="8.60" text-anchor="middle" textLength="11.55" lengthAdjust="spacingAndGlyphs" class="tl">100</text>
<text x="514.20" y="326.60" font-size="8.20" text-anchor="start" textLength="56.30" lengthAdjust="spacingAndGlyphs">Cycle number</text>
<line x1="445.90" y1="108.96" x2="447.50" y2="108.96" stroke="#a8a8a8" stroke-width="0.80"/>
<line x1="445.90" y1="94.47" x2="447.50" y2="94.47" stroke="#a8a8a8" stroke-width="0.80"/>
<line x1="445.90" y1="79.99" x2="447.50" y2="79.99" stroke="#a8a8a8" stroke-width="0.80"/>
<line x1="445.90" y1="65.51" x2="447.50" y2="65.51" stroke="#a8a8a8" stroke-width="0.80"/>
<line x1="445.90" y1="51.02" x2="447.50" y2="51.02" stroke="#a8a8a8" stroke-width="0.80"/>
<line x1="445.90" y1="36.54" x2="447.50" y2="36.54" stroke="#a8a8a8" stroke-width="0.80"/>
<line x1="444.30" y1="116.20" x2="447.50" y2="116.20" stroke="#a8a8a8" stroke-width="0.80"/>
<text x="441.40" y="119.60" font-size="8.60" text-anchor="end" textLength="3.85" lengthAdjust="spacingAndGlyphs" class="tl">0</text>
<line x1="444.30" y1="101.72" x2="447.50" y2="101.72" stroke="#a8a8a8" stroke-width="0.80"/>
<text x="441.40" y="105.12" font-size="8.60" text-anchor="end" textLength="7.70" lengthAdjust="spacingAndGlyphs" class="tl">40</text>
<line x1="444.30" y1="87.23" x2="447.50" y2="87.23" stroke="#a8a8a8" stroke-width="0.80"/>
<text x="441.40" y="90.63" font-size="8.60" text-anchor="end" textLength="7.70" lengthAdjust="spacingAndGlyphs" class="tl">80</text>
<line x1="444.30" y1="72.75" x2="447.50" y2="72.75" stroke="#a8a8a8" stroke-width="0.80"/>
<text x="441.40" y="76.15" font-size="8.60" text-anchor="end" textLength="11.55" lengthAdjust="spacingAndGlyphs" class="tl">120</text>
<line x1="444.30" y1="58.27" x2="447.50" y2="58.27" stroke="#a8a8a8" stroke-width="0.80"/>
<text x="441.40" y="61.67" font-size="8.60" text-anchor="end" textLength="11.55" lengthAdjust="spacingAndGlyphs" class="tl">160</text>
<line x1="444.30" y1="43.78" x2="447.50" y2="43.78" stroke="#a8a8a8" stroke-width="0.80"/>
<text x="441.40" y="47.18" font-size="8.60" text-anchor="end" textLength="11.55" lengthAdjust="spacingAndGlyphs" class="tl">200</text>
<line x1="444.30" y1="29.30" x2="447.50" y2="29.30" stroke="#a8a8a8" stroke-width="0.80"/>
<text x="441.40" y="32.70" font-size="8.60" text-anchor="end" textLength="11.55" lengthAdjust="spacingAndGlyphs" class="tl">240</text>
<line x1="445.90" y1="193.85" x2="447.50" y2="193.85" stroke="#a8a8a8" stroke-width="0.80"/>
<line x1="445.90" y1="169.95" x2="447.50" y2="169.95" stroke="#a8a8a8" stroke-width="0.80"/>
<line x1="445.90" y1="146.05" x2="447.50" y2="146.05" stroke="#a8a8a8" stroke-width="0.80"/>
<line x1="445.90" y1="122.15" x2="447.50" y2="122.15" stroke="#a8a8a8" stroke-width="0.80"/>
<line x1="444.30" y1="205.80" x2="447.50" y2="205.80" stroke="#a8a8a8" stroke-width="0.80"/>
<text x="441.40" y="209.20" font-size="8.60" text-anchor="end" textLength="9.90" lengthAdjust="spacingAndGlyphs" class="tl">2.5</text>
<line x1="444.30" y1="181.90" x2="447.50" y2="181.90" stroke="#a8a8a8" stroke-width="0.80"/>
<text x="441.40" y="185.30" font-size="8.60" text-anchor="end" textLength="9.90" lengthAdjust="spacingAndGlyphs" class="tl">3.0</text>
<line x1="444.30" y1="158.00" x2="447.50" y2="158.00" stroke="#a8a8a8" stroke-width="0.80"/>
<text x="441.40" y="161.40" font-size="8.60" text-anchor="end" textLength="9.90" lengthAdjust="spacingAndGlyphs" class="tl">3.5</text>
<line x1="444.30" y1="134.10" x2="447.50" y2="134.10" stroke="#a8a8a8" stroke-width="0.80"/>
<text x="441.40" y="137.50" font-size="8.60" text-anchor="end" textLength="9.90" lengthAdjust="spacingAndGlyphs" class="tl">4.0</text>
<line x1="445.90" y1="292.03" x2="447.50" y2="292.03" stroke="#a8a8a8" stroke-width="0.80"/>
<line x1="445.90" y1="274.69" x2="447.50" y2="274.69" stroke="#a8a8a8" stroke-width="0.80"/>
<line x1="445.90" y1="257.35" x2="447.50" y2="257.35" stroke="#a8a8a8" stroke-width="0.80"/>
<line x1="445.90" y1="240.01" x2="447.50" y2="240.01" stroke="#a8a8a8" stroke-width="0.80"/>
<line x1="445.90" y1="222.67" x2="447.50" y2="222.67" stroke="#a8a8a8" stroke-width="0.80"/>
<line x1="444.30" y1="300.70" x2="447.50" y2="300.70" stroke="#a8a8a8" stroke-width="0.80"/>
<text x="441.40" y="304.10" font-size="8.60" text-anchor="end" textLength="3.85" lengthAdjust="spacingAndGlyphs" class="tl">0</text>
<line x1="444.30" y1="283.36" x2="447.50" y2="283.36" stroke="#a8a8a8" stroke-width="0.80"/>
<text x="441.40" y="286.76" font-size="8.60" text-anchor="end" textLength="11.55" lengthAdjust="spacingAndGlyphs" class="tl">200</text>
<line x1="444.30" y1="266.02" x2="447.50" y2="266.02" stroke="#a8a8a8" stroke-width="0.80"/>
<text x="441.40" y="269.42" font-size="8.60" text-anchor="end" textLength="11.55" lengthAdjust="spacingAndGlyphs" class="tl">400</text>
<line x1="444.30" y1="248.68" x2="447.50" y2="248.68" stroke="#a8a8a8" stroke-width="0.80"/>
<text x="441.40" y="252.08" font-size="8.60" text-anchor="end" textLength="11.55" lengthAdjust="spacingAndGlyphs" class="tl">600</text>
<line x1="444.30" y1="231.34" x2="447.50" y2="231.34" stroke="#a8a8a8" stroke-width="0.80"/>
<text x="441.40" y="234.74" font-size="8.60" text-anchor="end" textLength="11.55" lengthAdjust="spacingAndGlyphs" class="tl">800</text>
<line x1="444.30" y1="214.00" x2="447.50" y2="214.00" stroke="#a8a8a8" stroke-width="0.80"/>
<text x="441.40" y="217.40" font-size="8.60" text-anchor="end" textLength="15.40" lengthAdjust="spacingAndGlyphs" class="tl">1000</text>
<text transform="translate(418.60 105.50) rotate(-90)" font-size="9.00" textLength="7.90" lengthAdjust="spacingAndGlyphs" class="rl">Q</text>
<text transform="translate(421.80 97.30) rotate(-90)" font-size="6.00" textLength="4.40" lengthAdjust="spacingAndGlyphs" class="rl">D</text>
<line x1="418.60" y1="86.80" x2="412.60" y2="82.50" stroke="#1a1a1a" stroke-width="0.90"/>
<text transform="translate(418.60 77.90) rotate(-90)" font-size="9.00" textLength="24.00" lengthAdjust="spacingAndGlyphs" class="rl">mAh g</text>
<text transform="translate(414.80 53.40) rotate(-90)" font-size="6.00" textLength="6.60" lengthAdjust="spacingAndGlyphs" class="rl">&#8722;1</text>
<text transform="translate(418.60 180.80) rotate(-90)" font-size="9.00" textLength="6.50" lengthAdjust="spacingAndGlyphs" class="rl">V</text>
<text transform="translate(421.80 174.40) rotate(-90)" font-size="6.00" textLength="4.20" lengthAdjust="spacingAndGlyphs" class="rl">D</text>
<line x1="418.60" y1="163.40" x2="412.60" y2="159.30" stroke="#1a1a1a" stroke-width="0.90"/>
<text transform="translate(418.60 155.90) rotate(-90)" font-size="9.00" textLength="6.20" lengthAdjust="spacingAndGlyphs" class="rl">V</text>
<text transform="translate(418.60 283.40) rotate(-90)" font-size="9.00" textLength="6.80" lengthAdjust="spacingAndGlyphs" class="rl">E</text>
<text transform="translate(421.80 276.20) rotate(-90)" font-size="6.00" textLength="4.20" lengthAdjust="spacingAndGlyphs" class="rl">D</text>
<line x1="418.60" y1="266.20" x2="412.60" y2="261.90" stroke="#1a1a1a" stroke-width="0.90"/>
<text transform="translate(418.60 258.60) rotate(-90)" font-size="9.00" textLength="25.60" lengthAdjust="spacingAndGlyphs" class="rl">Wh kg</text>
<text transform="translate(414.80 232.60) rotate(-90)" font-size="6.00" textLength="5.60" lengthAdjust="spacingAndGlyphs" class="rl">&#8722;1</text>
<circle cx="449.11" cy="38.60" r="1.15" fill="none" stroke="#ff7474" stroke-width="0.70"/>
<circle cx="450.91" cy="38.52" r="1.15" fill="none" stroke="#ff7474" stroke-width="0.70"/>
<circle cx="452.72" cy="38.44" r="1.15" fill="none" stroke="#ff7474" stroke-width="0.70"/>
<circle cx="454.52" cy="38.36" r="1.15" fill="none" stroke="#ff7474" stroke-width="0.70"/>
<circle cx="456.32" cy="38.30" r="1.15" fill="none" stroke="#ff7474" stroke-width="0.70"/>
<circle cx="458.13" cy="38.28" r="1.15" fill="none" stroke="#ff7474" stroke-width="0.70"/>
<circle cx="459.94" cy="38.27" r="1.15" fill="none" stroke="#ff7474" stroke-width="0.70"/>
<circle cx="461.74" cy="38.26" r="1.15" fill="none" stroke="#ff7474" stroke-width="0.70"/>
<circle cx="463.55" cy="38.25" r="1.15" fill="none" stroke="#ff7474" stroke-width="0.70"/>
<circle cx="465.35" cy="38.23" r="1.15" fill="none" stroke="#ff7474" stroke-width="0.70"/>
<circle cx="467.16" cy="38.22" r="1.15" fill="none" stroke="#ff7474" stroke-width="0.70"/>
<circle cx="468.96" cy="38.21" r="1.15" fill="none" stroke="#ff7474" stroke-width="0.70"/>
<circle cx="470.76" cy="38.21" r="1.15" fill="none" stroke="#ff7474" stroke-width="0.70"/>
<circle cx="472.57" cy="38.24" r="1.15" fill="none" stroke="#ff7474" stroke-width="0.70"/>
<circle cx="474.38" cy="38.27" r="1.15" fill="none" stroke="#ff7474" stroke-width="0.70"/>
<circle cx="476.18" cy="38.30" r="1.15" fill="none" stroke="#ff7474" stroke-width="0.70"/>
<circle cx="477.99" cy="38.33" r="1.15" fill="none" stroke="#ff7474" stroke-width="0.70"/>
<circle cx="479.79" cy="38.36" r="1.15" fill="none" stroke="#ff7474" stroke-width="0.70"/>
<circle cx="481.60" cy="38.39" r="1.15" fill="none" stroke="#ff7474" stroke-width="0.70"/>
<circle cx="483.40" cy="38.42" r="1.15" fill="none" stroke="#ff7474" stroke-width="0.70"/>
<circle cx="485.20" cy="38.45" r="1.15" fill="none" stroke="#ff7474" stroke-width="0.70"/>
<circle cx="487.01" cy="38.48" r="1.15" fill="none" stroke="#ff7474" stroke-width="0.70"/>
<circle cx="488.81" cy="38.51" r="1.15" fill="none" stroke="#ff7474" stroke-width="0.70"/>
<circle cx="490.62" cy="38.55" r="1.15" fill="none" stroke="#ff7474" stroke-width="0.70"/>
<circle cx="492.43" cy="38.58" r="1.15" fill="none" stroke="#ff7474" stroke-width="0.70"/>
<circle cx="494.23" cy="38.62" r="1.15" fill="none" stroke="#ff7474" stroke-width="0.70"/>
<circle cx="496.03" cy="38.76" r="1.15" fill="none" stroke="#ff7474" stroke-width="0.70"/>
<circle cx="497.84" cy="38.89" r="1.15" fill="none" stroke="#ff7474" stroke-width="0.70"/>
<circle cx="499.64" cy="39.02" r="1.15" fill="none" stroke="#ff7474" stroke-width="0.70"/>
<circle cx="501.45" cy="39.16" r="1.15" fill="none" stroke="#ff7474" stroke-width="0.70"/>
<circle cx="503.25" cy="39.29" r="1.15" fill="none" stroke="#ff7474" stroke-width="0.70"/>
<circle cx="505.06" cy="39.42" r="1.15" fill="none" stroke="#ff7474" stroke-width="0.70"/>
<circle cx="506.87" cy="39.56" r="1.15" fill="none" stroke="#ff7474" stroke-width="0.70"/>
<circle cx="508.67" cy="39.69" r="1.15" fill="none" stroke="#ff7474" stroke-width="0.70"/>
<circle cx="510.48" cy="39.82" r="1.15" fill="none" stroke="#ff7474" stroke-width="0.70"/>
<circle cx="512.28" cy="39.96" r="1.15" fill="none" stroke="#ff7474" stroke-width="0.70"/>
<circle cx="514.09" cy="40.09" r="1.15" fill="none" stroke="#ff7474" stroke-width="0.70"/>
<circle cx="515.89" cy="40.22" r="1.15" fill="none" stroke="#ff7474" stroke-width="0.70"/>
<circle cx="517.69" cy="40.35" r="1.15" fill="none" stroke="#ff7474" stroke-width="0.70"/>
<circle cx="519.50" cy="40.49" r="1.15" fill="none" stroke="#ff7474" stroke-width="0.70"/>
<circle cx="521.30" cy="40.62" r="1.15" fill="none" stroke="#ff7474" stroke-width="0.70"/>
<circle cx="523.11" cy="40.75" r="1.15" fill="none" stroke="#ff7474" stroke-width="0.70"/>
<circle cx="524.91" cy="40.89" r="1.15" fill="none" stroke="#ff7474" stroke-width="0.70"/>
<circle cx="526.72" cy="41.02" r="1.15" fill="none" stroke="#ff7474" stroke-width="0.70"/>
<circle cx="528.52" cy="41.15" r="1.15" fill="none" stroke="#ff7474" stroke-width="0.70"/>
<circle cx="530.33" cy="41.29" r="1.15" fill="none" stroke="#ff7474" stroke-width="0.70"/>
<circle cx="532.13" cy="41.42" r="1.15" fill="none" stroke="#ff7474" stroke-width="0.70"/>
<circle cx="533.94" cy="41.55" r="1.15" fill="none" stroke="#ff7474" stroke-width="0.70"/>
<circle cx="535.75" cy="41.69" r="1.15" fill="none" stroke="#ff7474" stroke-width="0.70"/>
<circle cx="537.55" cy="41.82" r="1.15" fill="none" stroke="#ff7474" stroke-width="0.70"/>
<circle cx="539.36" cy="41.95" r="1.15" fill="none" stroke="#ff7474" stroke-width="0.70"/>
<circle cx="541.16" cy="42.06" r="1.15" fill="none" stroke="#ff7474" stroke-width="0.70"/>
<circle cx="542.97" cy="42.15" r="1.15" fill="none" stroke="#ff7474" stroke-width="0.70"/>
<circle cx="544.77" cy="42.24" r="1.15" fill="none" stroke="#ff7474" stroke-width="0.70"/>
<circle cx="546.58" cy="42.33" r="1.15" fill="none" stroke="#ff7474" stroke-width="0.70"/>
<circle cx="548.38" cy="42.42" r="1.15" fill="none" stroke="#ff7474" stroke-width="0.70"/>
<circle cx="550.18" cy="42.51" r="1.15" fill="none" stroke="#ff7474" stroke-width="0.70"/>
<circle cx="551.99" cy="42.60" r="1.15" fill="none" stroke="#ff7474" stroke-width="0.70"/>
<circle cx="553.79" cy="42.69" r="1.15" fill="none" stroke="#ff7474" stroke-width="0.70"/>
<circle cx="555.60" cy="42.78" r="1.15" fill="none" stroke="#ff7474" stroke-width="0.70"/>
<circle cx="557.40" cy="42.87" r="1.15" fill="none" stroke="#ff7474" stroke-width="0.70"/>
<circle cx="559.21" cy="42.96" r="1.15" fill="none" stroke="#ff7474" stroke-width="0.70"/>
<circle cx="561.01" cy="43.05" r="1.15" fill="none" stroke="#ff7474" stroke-width="0.70"/>
<circle cx="562.82" cy="43.14" r="1.15" fill="none" stroke="#ff7474" stroke-width="0.70"/>
<circle cx="564.62" cy="43.23" r="1.15" fill="none" stroke="#ff7474" stroke-width="0.70"/>
<circle cx="566.43" cy="43.32" r="1.15" fill="none" stroke="#ff7474" stroke-width="0.70"/>
<circle cx="568.24" cy="43.41" r="1.15" fill="none" stroke="#ff7474" stroke-width="0.70"/>
<circle cx="570.04" cy="43.50" r="1.15" fill="none" stroke="#ff7474" stroke-width="0.70"/>
<circle cx="571.85" cy="43.59" r="1.15" fill="none" stroke="#ff7474" stroke-width="0.70"/>
<circle cx="573.65" cy="43.68" r="1.15" fill="none" stroke="#ff7474" stroke-width="0.70"/>
<circle cx="575.45" cy="43.77" r="1.15" fill="none" stroke="#ff7474" stroke-width="0.70"/>
<circle cx="577.26" cy="43.86" r="1.15" fill="none" stroke="#ff7474" stroke-width="0.70"/>
<circle cx="579.06" cy="43.95" r="1.15" fill="none" stroke="#ff7474" stroke-width="0.70"/>
<circle cx="580.87" cy="44.04" r="1.15" fill="none" stroke="#ff7474" stroke-width="0.70"/>
<circle cx="582.67" cy="44.13" r="1.15" fill="none" stroke="#ff7474" stroke-width="0.70"/>
<circle cx="584.48" cy="44.22" r="1.15" fill="none" stroke="#ff7474" stroke-width="0.70"/>
<circle cx="586.28" cy="44.31" r="1.15" fill="none" stroke="#ff7474" stroke-width="0.70"/>
<circle cx="588.09" cy="44.40" r="1.15" fill="none" stroke="#ff7474" stroke-width="0.70"/>
<circle cx="589.89" cy="44.49" r="1.15" fill="none" stroke="#ff7474" stroke-width="0.70"/>
<circle cx="591.70" cy="44.58" r="1.15" fill="none" stroke="#ff7474" stroke-width="0.70"/>
<circle cx="593.50" cy="44.68" r="1.15" fill="none" stroke="#ff7474" stroke-width="0.70"/>
<circle cx="595.31" cy="44.77" r="1.15" fill="none" stroke="#ff7474" stroke-width="0.70"/>
<circle cx="597.12" cy="44.86" r="1.15" fill="none" stroke="#ff7474" stroke-width="0.70"/>
<circle cx="598.92" cy="44.95" r="1.15" fill="none" stroke="#ff7474" stroke-width="0.70"/>
<circle cx="600.72" cy="45.06" r="1.15" fill="none" stroke="#ff7474" stroke-width="0.70"/>
<circle cx="602.53" cy="45.20" r="1.15" fill="none" stroke="#ff7474" stroke-width="0.70"/>
<circle cx="604.34" cy="45.33" r="1.15" fill="none" stroke="#ff7474" stroke-width="0.70"/>
<circle cx="606.14" cy="45.47" r="1.15" fill="none" stroke="#ff7474" stroke-width="0.70"/>
<circle cx="607.94" cy="45.61" r="1.15" fill="none" stroke="#ff7474" stroke-width="0.70"/>
<circle cx="609.75" cy="45.75" r="1.15" fill="none" stroke="#ff7474" stroke-width="0.70"/>
<circle cx="611.55" cy="45.89" r="1.15" fill="none" stroke="#ff7474" stroke-width="0.70"/>
<circle cx="613.36" cy="46.03" r="1.15" fill="none" stroke="#ff7474" stroke-width="0.70"/>
<circle cx="615.16" cy="46.17" r="1.15" fill="none" stroke="#ff7474" stroke-width="0.70"/>
<circle cx="616.97" cy="46.31" r="1.15" fill="none" stroke="#ff7474" stroke-width="0.70"/>
<circle cx="618.77" cy="46.45" r="1.15" fill="none" stroke="#ff7474" stroke-width="0.70"/>
<circle cx="620.58" cy="46.59" r="1.15" fill="none" stroke="#ff7474" stroke-width="0.70"/>
<circle cx="622.38" cy="46.73" r="1.15" fill="none" stroke="#ff7474" stroke-width="0.70"/>
<circle cx="624.19" cy="46.87" r="1.15" fill="none" stroke="#ff7474" stroke-width="0.70"/>
<circle cx="625.99" cy="47.01" r="1.15" fill="none" stroke="#ff7474" stroke-width="0.70"/>
<circle cx="627.80" cy="47.15" r="1.15" fill="none" stroke="#ff7474" stroke-width="0.70"/>
<circle cx="449.11" cy="38.01" r="1.15" fill="none" stroke="#6c6cff" stroke-width="0.70"/>
<circle cx="450.91" cy="40.93" r="1.15" fill="none" stroke="#6c6cff" stroke-width="0.70"/>
<circle cx="452.72" cy="43.84" r="1.15" fill="none" stroke="#6c6cff" stroke-width="0.70"/>
<circle cx="454.52" cy="46.67" r="1.15" fill="none" stroke="#6c6cff" stroke-width="0.70"/>
<circle cx="456.32" cy="49.49" r="1.15" fill="none" stroke="#6c6cff" stroke-width="0.70"/>
<circle cx="458.13" cy="52.16" r="1.15" fill="none" stroke="#6c6cff" stroke-width="0.70"/>
<circle cx="459.94" cy="54.83" r="1.15" fill="none" stroke="#6c6cff" stroke-width="0.70"/>
<circle cx="461.74" cy="57.51" r="1.15" fill="none" stroke="#6c6cff" stroke-width="0.70"/>
<circle cx="463.55" cy="60.22" r="1.15" fill="none" stroke="#6c6cff" stroke-width="0.70"/>
<circle cx="465.35" cy="62.93" r="1.15" fill="none" stroke="#6c6cff" stroke-width="0.70"/>
<circle cx="467.16" cy="65.64" r="1.15" fill="none" stroke="#6c6cff" stroke-width="0.70"/>
<circle cx="468.96" cy="68.40" r="1.15" fill="none" stroke="#6c6cff" stroke-width="0.70"/>
<circle cx="470.76" cy="71.15" r="1.15" fill="none" stroke="#6c6cff" stroke-width="0.70"/>
<circle cx="472.57" cy="73.84" r="1.15" fill="none" stroke="#6c6cff" stroke-width="0.70"/>
<circle cx="474.38" cy="76.11" r="1.15" fill="none" stroke="#6c6cff" stroke-width="0.70"/>
<circle cx="476.18" cy="78.39" r="1.15" fill="none" stroke="#6c6cff" stroke-width="0.70"/>
<circle cx="477.99" cy="80.51" r="1.15" fill="none" stroke="#6c6cff" stroke-width="0.70"/>
<circle cx="479.79" cy="81.85" r="1.15" fill="none" stroke="#6c6cff" stroke-width="0.70"/>
<circle cx="481.60" cy="83.19" r="1.15" fill="none" stroke="#6c6cff" stroke-width="0.70"/>
<circle cx="483.40" cy="84.42" r="1.15" fill="none" stroke="#6c6cff" stroke-width="0.70"/>
<circle cx="485.20" cy="85.16" r="1.15" fill="none" stroke="#6c6cff" stroke-width="0.70"/>
<circle cx="487.01" cy="85.89" r="1.15" fill="none" stroke="#6c6cff" stroke-width="0.70"/>
<circle cx="488.81" cy="86.58" r="1.15" fill="none" stroke="#6c6cff" stroke-width="0.70"/>
<circle cx="490.62" cy="87.01" r="1.15" fill="none" stroke="#6c6cff" stroke-width="0.70"/>
<circle cx="492.43" cy="87.44" r="1.15" fill="none" stroke="#6c6cff" stroke-width="0.70"/>
<circle cx="494.23" cy="87.89" r="1.15" fill="none" stroke="#6c6cff" stroke-width="0.70"/>
<circle cx="496.03" cy="88.35" r="1.15" fill="none" stroke="#6c6cff" stroke-width="0.70"/>
<circle cx="497.84" cy="88.82" r="1.15" fill="none" stroke="#6c6cff" stroke-width="0.70"/>
<circle cx="499.64" cy="89.31" r="1.15" fill="none" stroke="#6c6cff" stroke-width="0.70"/>
<circle cx="501.45" cy="89.92" r="1.15" fill="none" stroke="#6c6cff" stroke-width="0.70"/>
<circle cx="503.25" cy="90.52" r="1.15" fill="none" stroke="#6c6cff" stroke-width="0.70"/>
<circle cx="505.06" cy="91.27" r="1.15" fill="none" stroke="#6c6cff" stroke-width="0.70"/>
<circle cx="506.87" cy="92.64" r="1.15" fill="none" stroke="#6c6cff" stroke-width="0.70"/>
<circle cx="508.67" cy="94.01" r="1.15" fill="none" stroke="#6c6cff" stroke-width="0.70"/>
<circle cx="510.48" cy="95.57" r="1.15" fill="none" stroke="#6c6cff" stroke-width="0.70"/>
<circle cx="512.28" cy="97.80" r="1.15" fill="none" stroke="#6c6cff" stroke-width="0.70"/>
<circle cx="514.09" cy="100.04" r="1.15" fill="none" stroke="#6c6cff" stroke-width="0.70"/>
<circle cx="515.89" cy="102.46" r="1.15" fill="none" stroke="#6c6cff" stroke-width="0.70"/>
<circle cx="517.69" cy="105.53" r="1.15" fill="none" stroke="#6c6cff" stroke-width="0.70"/>
<circle cx="519.50" cy="108.60" r="1.15" fill="none" stroke="#6c6cff" stroke-width="0.70"/>
<circle cx="521.30" cy="112.21" r="1.15" fill="none" stroke="#6c6cff" stroke-width="0.70"/>
<circle cx="523.11" cy="114.61" r="1.15" fill="none" stroke="#6c6cff" stroke-width="0.70"/>
<circle cx="524.91" cy="115.80" r="1.15" fill="none" stroke="#6c6cff" stroke-width="0.70"/>
<circle cx="526.72" cy="115.80" r="1.15" fill="none" stroke="#6c6cff" stroke-width="0.70"/>
<circle cx="528.52" cy="115.81" r="1.15" fill="none" stroke="#6c6cff" stroke-width="0.70"/>
<circle cx="530.33" cy="115.81" r="1.15" fill="none" stroke="#6c6cff" stroke-width="0.70"/>
<circle cx="532.13" cy="115.81" r="1.15" fill="none" stroke="#6c6cff" stroke-width="0.70"/>
<circle cx="533.94" cy="115.82" r="1.15" fill="none" stroke="#6c6cff" stroke-width="0.70"/>
<circle cx="535.75" cy="115.82" r="1.15" fill="none" stroke="#6c6cff" stroke-width="0.70"/>
<circle cx="537.55" cy="115.82" r="1.15" fill="none" stroke="#6c6cff" stroke-width="0.70"/>
<circle cx="539.36" cy="115.83" r="1.15" fill="none" stroke="#6c6cff" stroke-width="0.70"/>
<circle cx="541.16" cy="115.83" r="1.15" fill="none" stroke="#6c6cff" stroke-width="0.70"/>
<circle cx="542.97" cy="115.83" r="1.15" fill="none" stroke="#6c6cff" stroke-width="0.70"/>
<circle cx="544.77" cy="115.84" r="1.15" fill="none" stroke="#6c6cff" stroke-width="0.70"/>
<circle cx="546.58" cy="115.84" r="1.15" fill="none" stroke="#6c6cff" stroke-width="0.70"/>
<circle cx="548.38" cy="115.84" r="1.15" fill="none" stroke="#6c6cff" stroke-width="0.70"/>
<circle cx="550.18" cy="115.85" r="1.15" fill="none" stroke="#6c6cff" stroke-width="0.70"/>
<circle cx="551.99" cy="115.85" r="1.15" fill="none" stroke="#6c6cff" stroke-width="0.70"/>
<circle cx="553.79" cy="115.85" r="1.15" fill="none" stroke="#6c6cff" stroke-width="0.70"/>
<circle cx="555.60" cy="115.86" r="1.15" fill="none" stroke="#6c6cff" stroke-width="0.70"/>
<circle cx="557.40" cy="115.86" r="1.15" fill="none" stroke="#6c6cff" stroke-width="0.70"/>
<circle cx="559.21" cy="115.87" r="1.15" fill="none" stroke="#6c6cff" stroke-width="0.70"/>
<circle cx="561.01" cy="115.87" r="1.15" fill="none" stroke="#6c6cff" stroke-width="0.70"/>
<circle cx="562.82" cy="115.87" r="1.15" fill="none" stroke="#6c6cff" stroke-width="0.70"/>
<circle cx="564.62" cy="115.88" r="1.15" fill="none" stroke="#6c6cff" stroke-width="0.70"/>
<circle cx="566.43" cy="115.88" r="1.15" fill="none" stroke="#6c6cff" stroke-width="0.70"/>
<circle cx="568.24" cy="115.88" r="1.15" fill="none" stroke="#6c6cff" stroke-width="0.70"/>
<circle cx="570.04" cy="115.89" r="1.15" fill="none" stroke="#6c6cff" stroke-width="0.70"/>
<circle cx="571.85" cy="115.89" r="1.15" fill="none" stroke="#6c6cff" stroke-width="0.70"/>
<circle cx="573.65" cy="115.89" r="1.15" fill="none" stroke="#6c6cff" stroke-width="0.70"/>
<circle cx="575.45" cy="115.90" r="1.15" fill="none" stroke="#6c6cff" stroke-width="0.70"/>
<circle cx="577.26" cy="115.90" r="1.15" fill="none" stroke="#6c6cff" stroke-width="0.70"/>
<circle cx="579.06" cy="115.90" r="1.15" fill="none" stroke="#6c6cff" stroke-width="0.70"/>
<circle cx="580.87" cy="115.91" r="1.15" fill="none" stroke="#6c6cff" stroke-width="0.70"/>
<circle cx="582.67" cy="115.91" r="1.15" fill="none" stroke="#6c6cff" stroke-width="0.70"/>
<circle cx="584.48" cy="115.91" r="1.15" fill="none" stroke="#6c6cff" stroke-width="0.70"/>
<circle cx="586.28" cy="115.92" r="1.15" fill="none" stroke="#6c6cff" stroke-width="0.70"/>
<circle cx="588.09" cy="115.92" r="1.15" fill="none" stroke="#6c6cff" stroke-width="0.70"/>
<circle cx="589.89" cy="115.92" r="1.15" fill="none" stroke="#6c6cff" stroke-width="0.70"/>
<circle cx="591.70" cy="115.93" r="1.15" fill="none" stroke="#6c6cff" stroke-width="0.70"/>
<circle cx="593.50" cy="115.93" r="1.15" fill="none" stroke="#6c6cff" stroke-width="0.70"/>
<circle cx="595.31" cy="115.93" r="1.15" fill="none" stroke="#6c6cff" stroke-width="0.70"/>
<circle cx="597.12" cy="115.94" r="1.15" fill="none" stroke="#6c6cff" stroke-width="0.70"/>
<circle cx="598.92" cy="115.94" r="1.15" fill="none" stroke="#6c6cff" stroke-width="0.70"/>
<circle cx="600.72" cy="115.94" r="1.15" fill="none" stroke="#6c6cff" stroke-width="0.70"/>
<circle cx="602.53" cy="115.95" r="1.15" fill="none" stroke="#6c6cff" stroke-width="0.70"/>
<circle cx="604.34" cy="115.95" r="1.15" fill="none" stroke="#6c6cff" stroke-width="0.70"/>
<circle cx="606.14" cy="115.95" r="1.15" fill="none" stroke="#6c6cff" stroke-width="0.70"/>
<circle cx="607.94" cy="115.96" r="1.15" fill="none" stroke="#6c6cff" stroke-width="0.70"/>
<circle cx="609.75" cy="115.96" r="1.15" fill="none" stroke="#6c6cff" stroke-width="0.70"/>
<circle cx="611.55" cy="115.96" r="1.15" fill="none" stroke="#6c6cff" stroke-width="0.70"/>
<circle cx="613.36" cy="115.97" r="1.15" fill="none" stroke="#6c6cff" stroke-width="0.70"/>
<circle cx="615.16" cy="115.97" r="1.15" fill="none" stroke="#6c6cff" stroke-width="0.70"/>
<circle cx="616.97" cy="115.97" r="1.15" fill="none" stroke="#6c6cff" stroke-width="0.70"/>
<circle cx="618.77" cy="115.98" r="1.15" fill="none" stroke="#6c6cff" stroke-width="0.70"/>
<circle cx="620.58" cy="115.98" r="1.15" fill="none" stroke="#6c6cff" stroke-width="0.70"/>
<circle cx="622.38" cy="115.99" r="1.15" fill="none" stroke="#6c6cff" stroke-width="0.70"/>
<circle cx="624.19" cy="115.99" r="1.15" fill="none" stroke="#6c6cff" stroke-width="0.70"/>
<circle cx="625.99" cy="115.99" r="1.15" fill="none" stroke="#6c6cff" stroke-width="0.70"/>
<circle cx="627.80" cy="116.00" r="1.15" fill="none" stroke="#6c6cff" stroke-width="0.70"/>
<path d="M449.11 132.50l1.48 2.55h-2.96z" fill="none" stroke="#ff7474" stroke-width="0.70"/>
<path d="M450.91 131.90l1.48 2.55h-2.96z" fill="none" stroke="#ff7474" stroke-width="0.70"/>
<path d="M452.72 131.37l1.48 2.55h-2.96z" fill="none" stroke="#ff7474" stroke-width="0.70"/>
<path d="M454.52 131.06l1.48 2.55h-2.96z" fill="none" stroke="#ff7474" stroke-width="0.70"/>
<path d="M456.32 130.78l1.48 2.55h-2.96z" fill="none" stroke="#ff7474" stroke-width="0.70"/>
<path d="M458.13 130.68l1.48 2.55h-2.96z" fill="none" stroke="#ff7474" stroke-width="0.70"/>
<path d="M459.94 130.57l1.48 2.55h-2.96z" fill="none" stroke="#ff7474" stroke-width="0.70"/>
<path d="M461.74 130.47l1.48 2.55h-2.96z" fill="none" stroke="#ff7474" stroke-width="0.70"/>
<path d="M463.55 130.37l1.48 2.55h-2.96z" fill="none" stroke="#ff7474" stroke-width="0.70"/>
<path d="M465.35 130.28l1.48 2.55h-2.96z" fill="none" stroke="#ff7474" stroke-width="0.70"/>
<path d="M467.16 130.23l1.48 2.55h-2.96z" fill="none" stroke="#ff7474" stroke-width="0.70"/>
<path d="M468.96 130.18l1.48 2.55h-2.96z" fill="none" stroke="#ff7474" stroke-width="0.70"/>
<path d="M470.76 130.13l1.48 2.55h-2.96z" fill="none" stroke="#ff7474" stroke-width="0.70"/>
<path d="M472.57 130.08l1.48 2.55h-2.96z" fill="none" stroke="#ff7474" stroke-width="0.70"/>
<path d="M474.38 130.03l1.48 2.55h-2.96z" fill="none" stroke="#ff7474" stroke-width="0.70"/>
<path d="M476.18 129.98l1.48 2.55h-2.96z" fill="none" stroke="#ff7474" stroke-width="0.70"/>
<path d="M477.99 129.93l1.48 2.55h-2.96z" fill="none" stroke="#ff7474" stroke-width="0.70"/>
<path d="M479.79 129.88l1.48 2.55h-2.96z" fill="none" stroke="#ff7474" stroke-width="0.70"/>
<path d="M481.60 129.83l1.48 2.55h-2.96z" fill="none" stroke="#ff7474" stroke-width="0.70"/>
<path d="M483.40 129.78l1.48 2.55h-2.96z" fill="none" stroke="#ff7474" stroke-width="0.70"/>
<path d="M485.20 129.73l1.48 2.55h-2.96z" fill="none" stroke="#ff7474" stroke-width="0.70"/>
<path d="M487.01 129.72l1.48 2.55h-2.96z" fill="none" stroke="#ff7474" stroke-width="0.70"/>
<path d="M488.81 129.79l1.48 2.55h-2.96z" fill="none" stroke="#ff7474" stroke-width="0.70"/>
<path d="M490.62 129.86l1.48 2.55h-2.96z" fill="none" stroke="#ff7474" stroke-width="0.70"/>
<path d="M492.43 129.93l1.48 2.55h-2.96z" fill="none" stroke="#ff7474" stroke-width="0.70"/>
<path d="M494.23 130.00l1.48 2.55h-2.96z" fill="none" stroke="#ff7474" stroke-width="0.70"/>
<path d="M496.03 130.07l1.48 2.55h-2.96z" fill="none" stroke="#ff7474" stroke-width="0.70"/>
<path d="M497.84 130.14l1.48 2.55h-2.96z" fill="none" stroke="#ff7474" stroke-width="0.70"/>
<path d="M499.64 130.21l1.48 2.55h-2.96z" fill="none" stroke="#ff7474" stroke-width="0.70"/>
<path d="M501.45 130.28l1.48 2.55h-2.96z" fill="none" stroke="#ff7474" stroke-width="0.70"/>
<path d="M503.25 130.35l1.48 2.55h-2.96z" fill="none" stroke="#ff7474" stroke-width="0.70"/>
<path d="M505.06 130.42l1.48 2.55h-2.96z" fill="none" stroke="#ff7474" stroke-width="0.70"/>
<path d="M506.87 130.49l1.48 2.55h-2.96z" fill="none" stroke="#ff7474" stroke-width="0.70"/>
<path d="M508.67 130.56l1.48 2.55h-2.96z" fill="none" stroke="#ff7474" stroke-width="0.70"/>
<path d="M510.48 130.63l1.48 2.55h-2.96z" fill="none" stroke="#ff7474" stroke-width="0.70"/>
<path d="M512.28 130.71l1.48 2.55h-2.96z" fill="none" stroke="#ff7474" stroke-width="0.70"/>
<path d="M514.09 130.78l1.48 2.55h-2.96z" fill="none" stroke="#ff7474" stroke-width="0.70"/>
<path d="M515.89 130.85l1.48 2.55h-2.96z" fill="none" stroke="#ff7474" stroke-width="0.70"/>
<path d="M517.69 130.92l1.48 2.55h-2.96z" fill="none" stroke="#ff7474" stroke-width="0.70"/>
<path d="M519.50 131.04l1.48 2.55h-2.96z" fill="none" stroke="#ff7474" stroke-width="0.70"/>
<path d="M521.30 131.15l1.48 2.55h-2.96z" fill="none" stroke="#ff7474" stroke-width="0.70"/>
<path d="M523.11 131.26l1.48 2.55h-2.96z" fill="none" stroke="#ff7474" stroke-width="0.70"/>
<path d="M524.91 131.37l1.48 2.55h-2.96z" fill="none" stroke="#ff7474" stroke-width="0.70"/>
<path d="M526.72 131.48l1.48 2.55h-2.96z" fill="none" stroke="#ff7474" stroke-width="0.70"/>
<path d="M528.52 131.59l1.48 2.55h-2.96z" fill="none" stroke="#ff7474" stroke-width="0.70"/>
<path d="M530.33 131.70l1.48 2.55h-2.96z" fill="none" stroke="#ff7474" stroke-width="0.70"/>
<path d="M532.13 131.81l1.48 2.55h-2.96z" fill="none" stroke="#ff7474" stroke-width="0.70"/>
<path d="M533.94 131.92l1.48 2.55h-2.96z" fill="none" stroke="#ff7474" stroke-width="0.70"/>
<path d="M535.75 132.03l1.48 2.55h-2.96z" fill="none" stroke="#ff7474" stroke-width="0.70"/>
<path d="M537.55 132.15l1.48 2.55h-2.96z" fill="none" stroke="#ff7474" stroke-width="0.70"/>
<path d="M539.36 132.26l1.48 2.55h-2.96z" fill="none" stroke="#ff7474" stroke-width="0.70"/>
<path d="M541.16 132.37l1.48 2.55h-2.96z" fill="none" stroke="#ff7474" stroke-width="0.70"/>
<path d="M542.97 132.48l1.48 2.55h-2.96z" fill="none" stroke="#ff7474" stroke-width="0.70"/>
<path d="M544.77 132.59l1.48 2.55h-2.96z" fill="none" stroke="#ff7474" stroke-width="0.70"/>
<path d="M546.58 132.70l1.48 2.55h-2.96z" fill="none" stroke="#ff7474" stroke-width="0.70"/>
<path d="M548.38 132.81l1.48 2.55h-2.96z" fill="none" stroke="#ff7474" stroke-width="0.70"/>
<path d="M550.18 132.90l1.48 2.55h-2.96z" fill="none" stroke="#ff7474" stroke-width="0.70"/>
<path d="M551.99 132.98l1.48 2.55h-2.96z" fill="none" stroke="#ff7474" stroke-width="0.70"/>
<path d="M553.79 133.07l1.48 2.55h-2.96z" fill="none" stroke="#ff7474" stroke-width="0.70"/>
<path d="M555.60 133.16l1.48 2.55h-2.96z" fill="none" stroke="#ff7474" stroke-width="0.70"/>
<path d="M557.40 133.25l1.48 2.55h-2.96z" fill="none" stroke="#ff7474" stroke-width="0.70"/>
<path d="M559.21 133.33l1.48 2.55h-2.96z" fill="none" stroke="#ff7474" stroke-width="0.70"/>
<path d="M561.01 133.42l1.48 2.55h-2.96z" fill="none" stroke="#ff7474" stroke-width="0.70"/>
<path d="M562.82 133.51l1.48 2.55h-2.96z" fill="none" stroke="#ff7474" stroke-width="0.70"/>
<path d="M564.62 133.60l1.48 2.55h-2.96z" fill="none" stroke="#ff7474" stroke-width="0.70"/>
<path d="M566.43 133.68l1.48 2.55h-2.96z" fill="none" stroke="#ff7474" stroke-width="0.70"/>
<path d="M568.24 133.77l1.48 2.55h-2.96z" fill="none" stroke="#ff7474" stroke-width="0.70"/>
<path d="M570.04 133.86l1.48 2.55h-2.96z" fill="none" stroke="#ff7474" stroke-width="0.70"/>
<path d="M571.85 133.95l1.48 2.55h-2.96z" fill="none" stroke="#ff7474" stroke-width="0.70"/>
<path d="M573.65 134.04l1.48 2.55h-2.96z" fill="none" stroke="#ff7474" stroke-width="0.70"/>
<path d="M575.45 134.12l1.48 2.55h-2.96z" fill="none" stroke="#ff7474" stroke-width="0.70"/>
<path d="M577.26 134.21l1.48 2.55h-2.96z" fill="none" stroke="#ff7474" stroke-width="0.70"/>
<path d="M579.06 134.30l1.48 2.55h-2.96z" fill="none" stroke="#ff7474" stroke-width="0.70"/>
<path d="M580.87 134.40l1.48 2.55h-2.96z" fill="none" stroke="#ff7474" stroke-width="0.70"/>
<path d="M582.67 134.49l1.48 2.55h-2.96z" fill="none" stroke="#ff7474" stroke-width="0.70"/>
<path d="M584.48 134.59l1.48 2.55h-2.96z" fill="none" stroke="#ff7474" stroke-width="0.70"/>
<path d="M586.28 134.69l1.48 2.55h-2.96z" fill="none" stroke="#ff7474" stroke-width="0.70"/>
<path d="M588.09 134.79l1.48 2.55h-2.96z" fill="none" stroke="#ff7474" stroke-width="0.70"/>
<path d="M589.89 134.88l1.48 2.55h-2.96z" fill="none" stroke="#ff7474" stroke-width="0.70"/>
<path d="M591.70 134.98l1.48 2.55h-2.96z" fill="none" stroke="#ff7474" stroke-width="0.70"/>
<path d="M593.50 135.08l1.48 2.55h-2.96z" fill="none" stroke="#ff7474" stroke-width="0.70"/>
<path d="M595.31 135.18l1.48 2.55h-2.96z" fill="none" stroke="#ff7474" stroke-width="0.70"/>
<path d="M597.12 135.27l1.48 2.55h-2.96z" fill="none" stroke="#ff7474" stroke-width="0.70"/>
<path d="M598.92 135.37l1.48 2.55h-2.96z" fill="none" stroke="#ff7474" stroke-width="0.70"/>
<path d="M600.72 135.47l1.48 2.55h-2.96z" fill="none" stroke="#ff7474" stroke-width="0.70"/>
<path d="M602.53 135.57l1.48 2.55h-2.96z" fill="none" stroke="#ff7474" stroke-width="0.70"/>
<path d="M604.34 135.66l1.48 2.55h-2.96z" fill="none" stroke="#ff7474" stroke-width="0.70"/>
<path d="M606.14 135.76l1.48 2.55h-2.96z" fill="none" stroke="#ff7474" stroke-width="0.70"/>
<path d="M607.94 135.86l1.48 2.55h-2.96z" fill="none" stroke="#ff7474" stroke-width="0.70"/>
<path d="M609.75 135.96l1.48 2.55h-2.96z" fill="none" stroke="#ff7474" stroke-width="0.70"/>
<path d="M611.55 136.06l1.48 2.55h-2.96z" fill="none" stroke="#ff7474" stroke-width="0.70"/>
<path d="M613.36 136.16l1.48 2.55h-2.96z" fill="none" stroke="#ff7474" stroke-width="0.70"/>
<path d="M615.16 136.26l1.48 2.55h-2.96z" fill="none" stroke="#ff7474" stroke-width="0.70"/>
<path d="M616.97 136.37l1.48 2.55h-2.96z" fill="none" stroke="#ff7474" stroke-width="0.70"/>
<path d="M618.77 136.47l1.48 2.55h-2.96z" fill="none" stroke="#ff7474" stroke-width="0.70"/>
<path d="M620.58 136.57l1.48 2.55h-2.96z" fill="none" stroke="#ff7474" stroke-width="0.70"/>
<path d="M622.38 136.67l1.48 2.55h-2.96z" fill="none" stroke="#ff7474" stroke-width="0.70"/>
<path d="M624.19 136.77l1.48 2.55h-2.96z" fill="none" stroke="#ff7474" stroke-width="0.70"/>
<path d="M625.99 136.87l1.48 2.55h-2.96z" fill="none" stroke="#ff7474" stroke-width="0.70"/>
<path d="M627.80 136.97l1.48 2.55h-2.96z" fill="none" stroke="#ff7474" stroke-width="0.70"/>
<path d="M449.11 132.50l1.48 2.55h-2.96z" fill="none" stroke="#6c6cff" stroke-width="0.70"/>
<path d="M450.91 134.58l1.48 2.55h-2.96z" fill="none" stroke="#6c6cff" stroke-width="0.70"/>
<path d="M452.72 137.04l1.48 2.55h-2.96z" fill="none" stroke="#6c6cff" stroke-width="0.70"/>
<path d="M454.52 140.12l1.48 2.55h-2.96z" fill="none" stroke="#6c6cff" stroke-width="0.70"/>
<path d="M456.32 143.26l1.48 2.55h-2.96z" fill="none" stroke="#6c6cff" stroke-width="0.70"/>
<path d="M458.13 146.47l1.48 2.55h-2.96z" fill="none" stroke="#6c6cff" stroke-width="0.70"/>
<path d="M459.94 150.53l1.48 2.55h-2.96z" fill="none" stroke="#6c6cff" stroke-width="0.70"/>
<path d="M461.74 154.91l1.48 2.55h-2.96z" fill="none" stroke="#6c6cff" stroke-width="0.70"/>
<path d="M463.55 159.72l1.48 2.55h-2.96z" fill="none" stroke="#6c6cff" stroke-width="0.70"/>
<path d="M465.35 164.16l1.48 2.55h-2.96z" fill="none" stroke="#6c6cff" stroke-width="0.70"/>
<path d="M467.16 167.95l1.48 2.55h-2.96z" fill="none" stroke="#6c6cff" stroke-width="0.70"/>
<path d="M468.96 171.47l1.48 2.55h-2.96z" fill="none" stroke="#6c6cff" stroke-width="0.70"/>
<path d="M470.76 174.85l1.48 2.55h-2.96z" fill="none" stroke="#6c6cff" stroke-width="0.70"/>
<path d="M472.57 177.36l1.48 2.55h-2.96z" fill="none" stroke="#6c6cff" stroke-width="0.70"/>
<path d="M474.38 179.74l1.48 2.55h-2.96z" fill="none" stroke="#6c6cff" stroke-width="0.70"/>
<path d="M476.18 181.83l1.48 2.55h-2.96z" fill="none" stroke="#6c6cff" stroke-width="0.70"/>
<path d="M477.99 183.49l1.48 2.55h-2.96z" fill="none" stroke="#6c6cff" stroke-width="0.70"/>
<path d="M479.79 184.69l1.48 2.55h-2.96z" fill="none" stroke="#6c6cff" stroke-width="0.70"/>
<path d="M481.60 185.72l1.48 2.55h-2.96z" fill="none" stroke="#6c6cff" stroke-width="0.70"/>
<path d="M483.40 186.39l1.48 2.55h-2.96z" fill="none" stroke="#6c6cff" stroke-width="0.70"/>
<path d="M485.20 187.06l1.48 2.55h-2.96z" fill="none" stroke="#6c6cff" stroke-width="0.70"/>
<path d="M487.01 187.66l1.48 2.55h-2.96z" fill="none" stroke="#6c6cff" stroke-width="0.70"/>
<path d="M488.81 188.14l1.48 2.55h-2.96z" fill="none" stroke="#6c6cff" stroke-width="0.70"/>
<path d="M490.62 188.61l1.48 2.55h-2.96z" fill="none" stroke="#6c6cff" stroke-width="0.70"/>
<path d="M492.43 189.09l1.48 2.55h-2.96z" fill="none" stroke="#6c6cff" stroke-width="0.70"/>
<path d="M494.23 189.58l1.48 2.55h-2.96z" fill="none" stroke="#6c6cff" stroke-width="0.70"/>
<path d="M496.03 190.18l1.48 2.55h-2.96z" fill="none" stroke="#6c6cff" stroke-width="0.70"/>
<path d="M497.84 190.78l1.48 2.55h-2.96z" fill="none" stroke="#6c6cff" stroke-width="0.70"/>
<path d="M499.64 191.38l1.48 2.55h-2.96z" fill="none" stroke="#6c6cff" stroke-width="0.70"/>
<path d="M501.45 191.98l1.48 2.55h-2.96z" fill="none" stroke="#6c6cff" stroke-width="0.70"/>
<path d="M503.25 192.52l1.48 2.55h-2.96z" fill="none" stroke="#6c6cff" stroke-width="0.70"/>
<path d="M505.06 193.04l1.48 2.55h-2.96z" fill="none" stroke="#6c6cff" stroke-width="0.70"/>
<path d="M506.87 193.56l1.48 2.55h-2.96z" fill="none" stroke="#6c6cff" stroke-width="0.70"/>
<path d="M508.67 194.17l1.48 2.55h-2.96z" fill="none" stroke="#6c6cff" stroke-width="0.70"/>
<path d="M510.48 194.79l1.48 2.55h-2.96z" fill="none" stroke="#6c6cff" stroke-width="0.70"/>
<path d="M512.28 195.54l1.48 2.55h-2.96z" fill="none" stroke="#6c6cff" stroke-width="0.70"/>
<path d="M514.09 196.38l1.48 2.55h-2.96z" fill="none" stroke="#6c6cff" stroke-width="0.70"/>
<path d="M515.89 197.29l1.48 2.55h-2.96z" fill="none" stroke="#6c6cff" stroke-width="0.70"/>
<path d="M517.69 198.29l1.48 2.55h-2.96z" fill="none" stroke="#6c6cff" stroke-width="0.70"/>
<path d="M519.50 199.17l1.48 2.55h-2.96z" fill="none" stroke="#6c6cff" stroke-width="0.70"/>
<path d="M521.30 199.87l1.48 2.55h-2.96z" fill="none" stroke="#6c6cff" stroke-width="0.70"/>
<path d="M523.11 196.85l1.48 2.55h-2.96z" fill="none" stroke="#6c6cff" stroke-width="0.70"/>
<path d="M524.91 192.31l1.48 2.55h-2.96z" fill="none" stroke="#6c6cff" stroke-width="0.70"/>
<path d="M526.72 189.86l1.48 2.55h-2.96z" fill="none" stroke="#6c6cff" stroke-width="0.70"/>
<path d="M528.52 187.98l1.48 2.55h-2.96z" fill="none" stroke="#6c6cff" stroke-width="0.70"/>
<path d="M530.33 186.69l1.48 2.55h-2.96z" fill="none" stroke="#6c6cff" stroke-width="0.70"/>
<path d="M532.13 186.07l1.48 2.55h-2.96z" fill="none" stroke="#6c6cff" stroke-width="0.70"/>
<path d="M533.94 185.46l1.48 2.55h-2.96z" fill="none" stroke="#6c6cff" stroke-width="0.70"/>
<path d="M535.75 184.96l1.48 2.55h-2.96z" fill="none" stroke="#6c6cff" stroke-width="0.70"/>
<path d="M537.55 184.63l1.48 2.55h-2.96z" fill="none" stroke="#6c6cff" stroke-width="0.70"/>
<path d="M539.36 184.29l1.48 2.55h-2.96z" fill="none" stroke="#6c6cff" stroke-width="0.70"/>
<path d="M541.16 183.96l1.48 2.55h-2.96z" fill="none" stroke="#6c6cff" stroke-width="0.70"/>
<path d="M542.97 183.74l1.48 2.55h-2.96z" fill="none" stroke="#6c6cff" stroke-width="0.70"/>
<path d="M544.77 183.63l1.48 2.55h-2.96z" fill="none" stroke="#6c6cff" stroke-width="0.70"/>
<path d="M546.58 183.51l1.48 2.55h-2.96z" fill="none" stroke="#6c6cff" stroke-width="0.70"/>
<path d="M548.38 183.40l1.48 2.55h-2.96z" fill="none" stroke="#6c6cff" stroke-width="0.70"/>
<path d="M550.18 183.30l1.48 2.55h-2.96z" fill="none" stroke="#6c6cff" stroke-width="0.70"/>
<path d="M551.99 183.35l1.48 2.55h-2.96z" fill="none" stroke="#6c6cff" stroke-width="0.70"/>
<path d="M553.79 183.40l1.48 2.55h-2.96z" fill="none" stroke="#6c6cff" stroke-width="0.70"/>
<path d="M555.60 183.45l1.48 2.55h-2.96z" fill="none" stroke="#6c6cff" stroke-width="0.70"/>
<path d="M557.40 183.50l1.48 2.55h-2.96z" fill="none" stroke="#6c6cff" stroke-width="0.70"/>
<path d="M559.21 183.73l1.48 2.55h-2.96z" fill="none" stroke="#6c6cff" stroke-width="0.70"/>
<path d="M561.01 183.97l1.48 2.55h-2.96z" fill="none" stroke="#6c6cff" stroke-width="0.70"/>
<path d="M562.82 184.21l1.48 2.55h-2.96z" fill="none" stroke="#6c6cff" stroke-width="0.70"/>
<path d="M564.62 184.45l1.48 2.55h-2.96z" fill="none" stroke="#6c6cff" stroke-width="0.70"/>
<path d="M566.43 184.77l1.48 2.55h-2.96z" fill="none" stroke="#6c6cff" stroke-width="0.70"/>
<path d="M568.24 185.11l1.48 2.55h-2.96z" fill="none" stroke="#6c6cff" stroke-width="0.70"/>
<path d="M570.04 185.44l1.48 2.55h-2.96z" fill="none" stroke="#6c6cff" stroke-width="0.70"/>
<path d="M571.85 185.78l1.48 2.55h-2.96z" fill="none" stroke="#6c6cff" stroke-width="0.70"/>
<path d="M573.65 186.12l1.48 2.55h-2.96z" fill="none" stroke="#6c6cff" stroke-width="0.70"/>
<path d="M575.45 186.44l1.48 2.55h-2.96z" fill="none" stroke="#6c6cff" stroke-width="0.70"/>
<path d="M577.26 186.77l1.48 2.55h-2.96z" fill="none" stroke="#6c6cff" stroke-width="0.70"/>
<path d="M579.06 187.09l1.48 2.55h-2.96z" fill="none" stroke="#6c6cff" stroke-width="0.70"/>
<path d="M580.87 187.42l1.48 2.55h-2.96z" fill="none" stroke="#6c6cff" stroke-width="0.70"/>
<path d="M582.67 187.74l1.48 2.55h-2.96z" fill="none" stroke="#6c6cff" stroke-width="0.70"/>
<path d="M584.48 187.97l1.48 2.55h-2.96z" fill="none" stroke="#6c6cff" stroke-width="0.70"/>
<path d="M586.28 188.17l1.48 2.55h-2.96z" fill="none" stroke="#6c6cff" stroke-width="0.70"/>
<path d="M588.09 188.37l1.48 2.55h-2.96z" fill="none" stroke="#6c6cff" stroke-width="0.70"/>
<path d="M589.89 188.57l1.48 2.55h-2.96z" fill="none" stroke="#6c6cff" stroke-width="0.70"/>
<path d="M591.70 188.78l1.48 2.55h-2.96z" fill="none" stroke="#6c6cff" stroke-width="0.70"/>
<path d="M593.50 188.98l1.48 2.55h-2.96z" fill="none" stroke="#6c6cff" stroke-width="0.70"/>
<path d="M595.31 189.10l1.48 2.55h-2.96z" fill="none" stroke="#6c6cff" stroke-width="0.70"/>
<path d="M597.12 189.10l1.48 2.55h-2.96z" fill="none" stroke="#6c6cff" stroke-width="0.70"/>
<path d="M598.92 189.10l1.48 2.55h-2.96z" fill="none" stroke="#6c6cff" stroke-width="0.70"/>
<path d="M600.72 189.10l1.48 2.55h-2.96z" fill="none" stroke="#6c6cff" stroke-width="0.70"/>
<path d="M602.53 189.10l1.48 2.55h-2.96z" fill="none" stroke="#6c6cff" stroke-width="0.70"/>
<path d="M604.34 189.10l1.48 2.55h-2.96z" fill="none" stroke="#6c6cff" stroke-width="0.70"/>
<path d="M606.14 189.10l1.48 2.55h-2.96z" fill="none" stroke="#6c6cff" stroke-width="0.70"/>
<path d="M607.94 189.10l1.48 2.55h-2.96z" fill="none" stroke="#6c6cff" stroke-width="0.70"/>
<path d="M609.75 189.10l1.48 2.55h-2.96z" fill="none" stroke="#6c6cff" stroke-width="0.70"/>
<path d="M611.55 189.10l1.48 2.55h-2.96z" fill="none" stroke="#6c6cff" stroke-width="0.70"/>
<path d="M613.36 189.09l1.48 2.55h-2.96z" fill="none" stroke="#6c6cff" stroke-width="0.70"/>
<path d="M615.16 189.01l1.48 2.55h-2.96z" fill="none" stroke="#6c6cff" stroke-width="0.70"/>
<path d="M616.97 188.93l1.48 2.55h-2.96z" fill="none" stroke="#6c6cff" stroke-width="0.70"/>
<path d="M618.77 188.85l1.48 2.55h-2.96z" fill="none" stroke="#6c6cff" stroke-width="0.70"/>
<path d="M620.58 188.78l1.48 2.55h-2.96z" fill="none" stroke="#6c6cff" stroke-width="0.70"/>
<path d="M622.38 188.71l1.48 2.55h-2.96z" fill="none" stroke="#6c6cff" stroke-width="0.70"/>
<path d="M624.19 188.64l1.48 2.55h-2.96z" fill="none" stroke="#6c6cff" stroke-width="0.70"/>
<path d="M625.99 188.56l1.48 2.55h-2.96z" fill="none" stroke="#6c6cff" stroke-width="0.70"/>
<path d="M627.80 188.49l1.48 2.55h-2.96z" fill="none" stroke="#6c6cff" stroke-width="0.70"/>
<path d="M449.11 225.05l1.55 1.55l-1.55 1.55l-1.55 -1.55z" fill="none" stroke="#ff7474" stroke-width="0.70"/>
<path d="M450.91 224.85l1.55 1.55l-1.55 1.55l-1.55 -1.55z" fill="none" stroke="#ff7474" stroke-width="0.70"/>
<path d="M452.72 224.63l1.55 1.55l-1.55 1.55l-1.55 -1.55z" fill="none" stroke="#ff7474" stroke-width="0.70"/>
<path d="M454.52 224.41l1.55 1.55l-1.55 1.55l-1.55 -1.55z" fill="none" stroke="#ff7474" stroke-width="0.70"/>
<path d="M456.32 224.34l1.55 1.55l-1.55 1.55l-1.55 -1.55z" fill="none" stroke="#ff7474" stroke-width="0.70"/>
<path d="M458.13 224.33l1.55 1.55l-1.55 1.55l-1.55 -1.55z" fill="none" stroke="#ff7474" stroke-width="0.70"/>
<path d="M459.94 224.32l1.55 1.55l-1.55 1.55l-1.55 -1.55z" fill="none" stroke="#ff7474" stroke-width="0.70"/>
<path d="M461.74 224.31l1.55 1.55l-1.55 1.55l-1.55 -1.55z" fill="none" stroke="#ff7474" stroke-width="0.70"/>
<path d="M463.55 224.30l1.55 1.55l-1.55 1.55l-1.55 -1.55z" fill="none" stroke="#ff7474" stroke-width="0.70"/>
<path d="M465.35 224.28l1.55 1.55l-1.55 1.55l-1.55 -1.55z" fill="none" stroke="#ff7474" stroke-width="0.70"/>
<path d="M467.16 224.27l1.55 1.55l-1.55 1.55l-1.55 -1.55z" fill="none" stroke="#ff7474" stroke-width="0.70"/>
<path d="M468.96 224.26l1.55 1.55l-1.55 1.55l-1.55 -1.55z" fill="none" stroke="#ff7474" stroke-width="0.70"/>
<path d="M470.76 224.25l1.55 1.55l-1.55 1.55l-1.55 -1.55z" fill="none" stroke="#ff7474" stroke-width="0.70"/>
<path d="M472.57 224.31l1.55 1.55l-1.55 1.55l-1.55 -1.55z" fill="none" stroke="#ff7474" stroke-width="0.70"/>
<path d="M474.38 224.37l1.55 1.55l-1.55 1.55l-1.55 -1.55z" fill="none" stroke="#ff7474" stroke-width="0.70"/>
<path d="M476.18 224.42l1.55 1.55l-1.55 1.55l-1.55 -1.55z" fill="none" stroke="#ff7474" stroke-width="0.70"/>
<path d="M477.99 224.48l1.55 1.55l-1.55 1.55l-1.55 -1.55z" fill="none" stroke="#ff7474" stroke-width="0.70"/>
<path d="M479.79 224.54l1.55 1.55l-1.55 1.55l-1.55 -1.55z" fill="none" stroke="#ff7474" stroke-width="0.70"/>
<path d="M481.60 224.60l1.55 1.55l-1.55 1.55l-1.55 -1.55z" fill="none" stroke="#ff7474" stroke-width="0.70"/>
<path d="M483.40 224.66l1.55 1.55l-1.55 1.55l-1.55 -1.55z" fill="none" stroke="#ff7474" stroke-width="0.70"/>
<path d="M485.20 224.72l1.55 1.55l-1.55 1.55l-1.55 -1.55z" fill="none" stroke="#ff7474" stroke-width="0.70"/>
<path d="M487.01 224.81l1.55 1.55l-1.55 1.55l-1.55 -1.55z" fill="none" stroke="#ff7474" stroke-width="0.70"/>
<path d="M488.81 224.93l1.55 1.55l-1.55 1.55l-1.55 -1.55z" fill="none" stroke="#ff7474" stroke-width="0.70"/>
<path d="M490.62 225.04l1.55 1.55l-1.55 1.55l-1.55 -1.55z" fill="none" stroke="#ff7474" stroke-width="0.70"/>
<path d="M492.43 225.16l1.55 1.55l-1.55 1.55l-1.55 -1.55z" fill="none" stroke="#ff7474" stroke-width="0.70"/>
<path d="M494.23 225.27l1.55 1.55l-1.55 1.55l-1.55 -1.55z" fill="none" stroke="#ff7474" stroke-width="0.70"/>
<path d="M496.03 225.39l1.55 1.55l-1.55 1.55l-1.55 -1.55z" fill="none" stroke="#ff7474" stroke-width="0.70"/>
<path d="M497.84 225.50l1.55 1.55l-1.55 1.55l-1.55 -1.55z" fill="none" stroke="#ff7474" stroke-width="0.70"/>
<path d="M499.64 225.61l1.55 1.55l-1.55 1.55l-1.55 -1.55z" fill="none" stroke="#ff7474" stroke-width="0.70"/>
<path d="M501.45 225.73l1.55 1.55l-1.55 1.55l-1.55 -1.55z" fill="none" stroke="#ff7474" stroke-width="0.70"/>
<path d="M503.25 225.86l1.55 1.55l-1.55 1.55l-1.55 -1.55z" fill="none" stroke="#ff7474" stroke-width="0.70"/>
<path d="M505.06 226.00l1.55 1.55l-1.55 1.55l-1.55 -1.55z" fill="none" stroke="#ff7474" stroke-width="0.70"/>
<path d="M506.87 226.14l1.55 1.55l-1.55 1.55l-1.55 -1.55z" fill="none" stroke="#ff7474" stroke-width="0.70"/>
<path d="M508.67 226.28l1.55 1.55l-1.55 1.55l-1.55 -1.55z" fill="none" stroke="#ff7474" stroke-width="0.70"/>
<path d="M510.48 226.42l1.55 1.55l-1.55 1.55l-1.55 -1.55z" fill="none" stroke="#ff7474" stroke-width="0.70"/>
<path d="M512.28 226.56l1.55 1.55l-1.55 1.55l-1.55 -1.55z" fill="none" stroke="#ff7474" stroke-width="0.70"/>
<path d="M514.09 226.70l1.55 1.55l-1.55 1.55l-1.55 -1.55z" fill="none" stroke="#ff7474" stroke-width="0.70"/>
<path d="M515.89 226.84l1.55 1.55l-1.55 1.55l-1.55 -1.55z" fill="none" stroke="#ff7474" stroke-width="0.70"/>
<path d="M517.69 226.98l1.55 1.55l-1.55 1.55l-1.55 -1.55z" fill="none" stroke="#ff7474" stroke-width="0.70"/>
<path d="M519.50 227.12l1.55 1.55l-1.55 1.55l-1.55 -1.55z" fill="none" stroke="#ff7474" stroke-width="0.70"/>
<path d="M521.30 227.26l1.55 1.55l-1.55 1.55l-1.55 -1.55z" fill="none" stroke="#ff7474" stroke-width="0.70"/>
<path d="M523.11 227.40l1.55 1.55l-1.55 1.55l-1.55 -1.55z" fill="none" stroke="#ff7474" stroke-width="0.70"/>
<path d="M524.91 227.54l1.55 1.55l-1.55 1.55l-1.55 -1.55z" fill="none" stroke="#ff7474" stroke-width="0.70"/>
<path d="M526.72 227.68l1.55 1.55l-1.55 1.55l-1.55 -1.55z" fill="none" stroke="#ff7474" stroke-width="0.70"/>
<path d="M528.52 227.82l1.55 1.55l-1.55 1.55l-1.55 -1.55z" fill="none" stroke="#ff7474" stroke-width="0.70"/>
<path d="M530.33 227.96l1.55 1.55l-1.55 1.55l-1.55 -1.55z" fill="none" stroke="#ff7474" stroke-width="0.70"/>
<path d="M532.13 228.10l1.55 1.55l-1.55 1.55l-1.55 -1.55z" fill="none" stroke="#ff7474" stroke-width="0.70"/>
<path d="M533.94 228.24l1.55 1.55l-1.55 1.55l-1.55 -1.55z" fill="none" stroke="#ff7474" stroke-width="0.70"/>
<path d="M535.75 228.39l1.55 1.55l-1.55 1.55l-1.55 -1.55z" fill="none" stroke="#ff7474" stroke-width="0.70"/>
<path d="M537.55 228.53l1.55 1.55l-1.55 1.55l-1.55 -1.55z" fill="none" stroke="#ff7474" stroke-width="0.70"/>
<path d="M539.36 228.68l1.55 1.55l-1.55 1.55l-1.55 -1.55z" fill="none" stroke="#ff7474" stroke-width="0.70"/>
<path d="M541.16 228.83l1.55 1.55l-1.55 1.55l-1.55 -1.55z" fill="none" stroke="#ff7474" stroke-width="0.70"/>
<path d="M542.97 228.97l1.55 1.55l-1.55 1.55l-1.55 -1.55z" fill="none" stroke="#ff7474" stroke-width="0.70"/>
<path d="M544.77 229.12l1.55 1.55l-1.55 1.55l-1.55 -1.55z" fill="none" stroke="#ff7474" stroke-width="0.70"/>
<path d="M546.58 229.26l1.55 1.55l-1.55 1.55l-1.55 -1.55z" fill="none" stroke="#ff7474" stroke-width="0.70"/>
<path d="M548.38 229.41l1.55 1.55l-1.55 1.55l-1.55 -1.55z" fill="none" stroke="#ff7474" stroke-width="0.70"/>
<path d="M550.18 229.56l1.55 1.55l-1.55 1.55l-1.55 -1.55z" fill="none" stroke="#ff7474" stroke-width="0.70"/>
<path d="M551.99 229.70l1.55 1.55l-1.55 1.55l-1.55 -1.55z" fill="none" stroke="#ff7474" stroke-width="0.70"/>
<path d="M553.79 229.85l1.55 1.55l-1.55 1.55l-1.55 -1.55z" fill="none" stroke="#ff7474" stroke-width="0.70"/>
<path d="M555.60 229.99l1.55 1.55l-1.55 1.55l-1.55 -1.55z" fill="none" stroke="#ff7474" stroke-width="0.70"/>
<path d="M557.40 230.14l1.55 1.55l-1.55 1.55l-1.55 -1.55z" fill="none" stroke="#ff7474" stroke-width="0.70"/>
<path d="M559.21 230.29l1.55 1.55l-1.55 1.55l-1.55 -1.55z" fill="none" stroke="#ff7474" stroke-width="0.70"/>
<path d="M561.01 230.43l1.55 1.55l-1.55 1.55l-1.55 -1.55z" fill="none" stroke="#ff7474" stroke-width="0.70"/>
<path d="M562.82 230.58l1.55 1.55l-1.55 1.55l-1.55 -1.55z" fill="none" stroke="#ff7474" stroke-width="0.70"/>
<path d="M564.62 230.72l1.55 1.55l-1.55 1.55l-1.55 -1.55z" fill="none" stroke="#ff7474" stroke-width="0.70"/>
<path d="M566.43 230.84l1.55 1.55l-1.55 1.55l-1.55 -1.55z" fill="none" stroke="#ff7474" stroke-width="0.70"/>
<path d="M568.24 230.97l1.55 1.55l-1.55 1.55l-1.55 -1.55z" fill="none" stroke="#ff7474" stroke-width="0.70"/>
<path d="M570.04 231.10l1.55 1.55l-1.55 1.55l-1.55 -1.55z" fill="none" stroke="#ff7474" stroke-width="0.70"/>
<path d="M571.85 231.23l1.55 1.55l-1.55 1.55l-1.55 -1.55z" fill="none" stroke="#ff7474" stroke-width="0.70"/>
<path d="M573.65 231.36l1.55 1.55l-1.55 1.55l-1.55 -1.55z" fill="none" stroke="#ff7474" stroke-width="0.70"/>
<path d="M575.45 231.49l1.55 1.55l-1.55 1.55l-1.55 -1.55z" fill="none" stroke="#ff7474" stroke-width="0.70"/>
<path d="M577.26 231.62l1.55 1.55l-1.55 1.55l-1.55 -1.55z" fill="none" stroke="#ff7474" stroke-width="0.70"/>
<path d="M579.06 231.74l1.55 1.55l-1.55 1.55l-1.55 -1.55z" fill="none" stroke="#ff7474" stroke-width="0.70"/>
<path d="M580.87 231.87l1.55 1.55l-1.55 1.55l-1.55 -1.55z" fill="none" stroke="#ff7474" stroke-width="0.70"/>
<path d="M582.67 232.00l1.55 1.55l-1.55 1.55l-1.55 -1.55z" fill="none" stroke="#ff7474" stroke-width="0.70"/>
<path d="M584.48 232.13l1.55 1.55l-1.55 1.55l-1.55 -1.55z" fill="none" stroke="#ff7474" stroke-width="0.70"/>
<path d="M586.28 232.26l1.55 1.55l-1.55 1.55l-1.55 -1.55z" fill="none" stroke="#ff7474" stroke-width="0.70"/>
<path d="M588.09 232.39l1.55 1.55l-1.55 1.55l-1.55 -1.55z" fill="none" stroke="#ff7474" stroke-width="0.70"/>
<path d="M589.89 232.52l1.55 1.55l-1.55 1.55l-1.55 -1.55z" fill="none" stroke="#ff7474" stroke-width="0.70"/>
<path d="M591.70 232.64l1.55 1.55l-1.55 1.55l-1.55 -1.55z" fill="none" stroke="#ff7474" stroke-width="0.70"/>
<path d="M593.50 232.77l1.55 1.55l-1.55 1.55l-1.55 -1.55z" fill="none" stroke="#ff7474" stroke-width="0.70"/>
<path d="M595.31 232.90l1.55 1.55l-1.55 1.55l-1.55 -1.55z" fill="none" stroke="#ff7474" stroke-width="0.70"/>
<path d="M597.12 233.02l1.55 1.55l-1.55 1.55l-1.55 -1.55z" fill="none" stroke="#ff7474" stroke-width="0.70"/>
<path d="M598.92 233.14l1.55 1.55l-1.55 1.55l-1.55 -1.55z" fill="none" stroke="#ff7474" stroke-width="0.70"/>
<path d="M600.72 233.26l1.55 1.55l-1.55 1.55l-1.55 -1.55z" fill="none" stroke="#ff7474" stroke-width="0.70"/>
<path d="M602.53 233.38l1.55 1.55l-1.55 1.55l-1.55 -1.55z" fill="none" stroke="#ff7474" stroke-width="0.70"/>
<path d="M604.34 233.51l1.55 1.55l-1.55 1.55l-1.55 -1.55z" fill="none" stroke="#ff7474" stroke-width="0.70"/>
<path d="M606.14 233.63l1.55 1.55l-1.55 1.55l-1.55 -1.55z" fill="none" stroke="#ff7474" stroke-width="0.70"/>
<path d="M607.94 233.75l1.55 1.55l-1.55 1.55l-1.55 -1.55z" fill="none" stroke="#ff7474" stroke-width="0.70"/>
<path d="M609.75 233.87l1.55 1.55l-1.55 1.55l-1.55 -1.55z" fill="none" stroke="#ff7474" stroke-width="0.70"/>
<path d="M611.55 233.99l1.55 1.55l-1.55 1.55l-1.55 -1.55z" fill="none" stroke="#ff7474" stroke-width="0.70"/>
<path d="M613.36 234.11l1.55 1.55l-1.55 1.55l-1.55 -1.55z" fill="none" stroke="#ff7474" stroke-width="0.70"/>
<path d="M615.16 234.24l1.55 1.55l-1.55 1.55l-1.55 -1.55z" fill="none" stroke="#ff7474" stroke-width="0.70"/>
<path d="M616.97 234.36l1.55 1.55l-1.55 1.55l-1.55 -1.55z" fill="none" stroke="#ff7474" stroke-width="0.70"/>
<path d="M618.77 234.48l1.55 1.55l-1.55 1.55l-1.55 -1.55z" fill="none" stroke="#ff7474" stroke-width="0.70"/>
<path d="M620.58 234.60l1.55 1.55l-1.55 1.55l-1.55 -1.55z" fill="none" stroke="#ff7474" stroke-width="0.70"/>
<path d="M622.38 234.72l1.55 1.55l-1.55 1.55l-1.55 -1.55z" fill="none" stroke="#ff7474" stroke-width="0.70"/>
<path d="M624.19 234.84l1.55 1.55l-1.55 1.55l-1.55 -1.55z" fill="none" stroke="#ff7474" stroke-width="0.70"/>
<path d="M625.99 234.97l1.55 1.55l-1.55 1.55l-1.55 -1.55z" fill="none" stroke="#ff7474" stroke-width="0.70"/>
<path d="M627.80 235.09l1.55 1.55l-1.55 1.55l-1.55 -1.55z" fill="none" stroke="#ff7474" stroke-width="0.70"/>
<path d="M449.11 225.05l1.55 1.55l-1.55 1.55l-1.55 -1.55z" fill="none" stroke="#6c6cff" stroke-width="0.70"/>
<path d="M450.91 227.49l1.55 1.55l-1.55 1.55l-1.55 -1.55z" fill="none" stroke="#6c6cff" stroke-width="0.70"/>
<path d="M452.72 230.46l1.55 1.55l-1.55 1.55l-1.55 -1.55z" fill="none" stroke="#6c6cff" stroke-width="0.70"/>
<path d="M454.52 234.54l1.55 1.55l-1.55 1.55l-1.55 -1.55z" fill="none" stroke="#6c6cff" stroke-width="0.70"/>
<path d="M456.32 238.59l1.55 1.55l-1.55 1.55l-1.55 -1.55z" fill="none" stroke="#6c6cff" stroke-width="0.70"/>
<path d="M458.13 242.60l1.55 1.55l-1.55 1.55l-1.55 -1.55z" fill="none" stroke="#6c6cff" stroke-width="0.70"/>
<path d="M459.94 246.71l1.55 1.55l-1.55 1.55l-1.55 -1.55z" fill="none" stroke="#6c6cff" stroke-width="0.70"/>
<path d="M461.74 250.84l1.55 1.55l-1.55 1.55l-1.55 -1.55z" fill="none" stroke="#6c6cff" stroke-width="0.70"/>
<path d="M463.55 254.93l1.55 1.55l-1.55 1.55l-1.55 -1.55z" fill="none" stroke="#6c6cff" stroke-width="0.70"/>
<path d="M465.35 258.58l1.55 1.55l-1.55 1.55l-1.55 -1.55z" fill="none" stroke="#6c6cff" stroke-width="0.70"/>
<path d="M467.16 261.43l1.55 1.55l-1.55 1.55l-1.55 -1.55z" fill="none" stroke="#6c6cff" stroke-width="0.70"/>
<path d="M468.96 264.10l1.55 1.55l-1.55 1.55l-1.55 -1.55z" fill="none" stroke="#6c6cff" stroke-width="0.70"/>
<path d="M470.76 266.66l1.55 1.55l-1.55 1.55l-1.55 -1.55z" fill="none" stroke="#6c6cff" stroke-width="0.70"/>
<path d="M472.57 268.68l1.55 1.55l-1.55 1.55l-1.55 -1.55z" fill="none" stroke="#6c6cff" stroke-width="0.70"/>
<path d="M474.38 270.59l1.55 1.55l-1.55 1.55l-1.55 -1.55z" fill="none" stroke="#6c6cff" stroke-width="0.70"/>
<path d="M476.18 272.22l1.55 1.55l-1.55 1.55l-1.55 -1.55z" fill="none" stroke="#6c6cff" stroke-width="0.70"/>
<path d="M477.99 273.66l1.55 1.55l-1.55 1.55l-1.55 -1.55z" fill="none" stroke="#6c6cff" stroke-width="0.70"/>
<path d="M479.79 274.91l1.55 1.55l-1.55 1.55l-1.55 -1.55z" fill="none" stroke="#6c6cff" stroke-width="0.70"/>
<path d="M481.60 276.03l1.55 1.55l-1.55 1.55l-1.55 -1.55z" fill="none" stroke="#6c6cff" stroke-width="0.70"/>
<path d="M483.40 276.86l1.55 1.55l-1.55 1.55l-1.55 -1.55z" fill="none" stroke="#6c6cff" stroke-width="0.70"/>
<path d="M485.20 277.70l1.55 1.55l-1.55 1.55l-1.55 -1.55z" fill="none" stroke="#6c6cff" stroke-width="0.70"/>
<path d="M487.01 278.39l1.55 1.55l-1.55 1.55l-1.55 -1.55z" fill="none" stroke="#6c6cff" stroke-width="0.70"/>
<path d="M488.81 278.79l1.55 1.55l-1.55 1.55l-1.55 -1.55z" fill="none" stroke="#6c6cff" stroke-width="0.70"/>
<path d="M490.62 279.19l1.55 1.55l-1.55 1.55l-1.55 -1.55z" fill="none" stroke="#6c6cff" stroke-width="0.70"/>
<path d="M492.43 279.60l1.55 1.55l-1.55 1.55l-1.55 -1.55z" fill="none" stroke="#6c6cff" stroke-width="0.70"/>
<path d="M494.23 279.99l1.55 1.55l-1.55 1.55l-1.55 -1.55z" fill="none" stroke="#6c6cff" stroke-width="0.70"/>
<path d="M496.03 280.32l1.55 1.55l-1.55 1.55l-1.55 -1.55z" fill="none" stroke="#6c6cff" stroke-width="0.70"/>
<path d="M497.84 280.64l1.55 1.55l-1.55 1.55l-1.55 -1.55z" fill="none" stroke="#6c6cff" stroke-width="0.70"/>
<path d="M499.64 280.96l1.55 1.55l-1.55 1.55l-1.55 -1.55z" fill="none" stroke="#6c6cff" stroke-width="0.70"/>
<path d="M501.45 281.29l1.55 1.55l-1.55 1.55l-1.55 -1.55z" fill="none" stroke="#6c6cff" stroke-width="0.70"/>
<path d="M503.25 281.74l1.55 1.55l-1.55 1.55l-1.55 -1.55z" fill="none" stroke="#6c6cff" stroke-width="0.70"/>
<path d="M505.06 282.23l1.55 1.55l-1.55 1.55l-1.55 -1.55z" fill="none" stroke="#6c6cff" stroke-width="0.70"/>
<path d="M506.87 282.71l1.55 1.55l-1.55 1.55l-1.55 -1.55z" fill="none" stroke="#6c6cff" stroke-width="0.70"/>
<path d="M508.67 283.44l1.55 1.55l-1.55 1.55l-1.55 -1.55z" fill="none" stroke="#6c6cff" stroke-width="0.70"/>
<path d="M510.48 284.19l1.55 1.55l-1.55 1.55l-1.55 -1.55z" fill="none" stroke="#6c6cff" stroke-width="0.70"/>
<path d="M512.28 285.32l1.55 1.55l-1.55 1.55l-1.55 -1.55z" fill="none" stroke="#6c6cff" stroke-width="0.70"/>
<path d="M514.09 286.64l1.55 1.55l-1.55 1.55l-1.55 -1.55z" fill="none" stroke="#6c6cff" stroke-width="0.70"/>
<path d="M515.89 288.49l1.55 1.55l-1.55 1.55l-1.55 -1.55z" fill="none" stroke="#6c6cff" stroke-width="0.70"/>
<path d="M517.69 290.62l1.55 1.55l-1.55 1.55l-1.55 -1.55z" fill="none" stroke="#6c6cff" stroke-width="0.70"/>
<path d="M519.50 293.34l1.55 1.55l-1.55 1.55l-1.55 -1.55z" fill="none" stroke="#6c6cff" stroke-width="0.70"/>
<path d="M521.30 296.52l1.55 1.55l-1.55 1.55l-1.55 -1.55z" fill="none" stroke="#6c6cff" stroke-width="0.70"/>
<path d="M523.11 298.11l1.55 1.55l-1.55 1.55l-1.55 -1.55z" fill="none" stroke="#6c6cff" stroke-width="0.70"/>
<path d="M524.91 298.45l1.55 1.55l-1.55 1.55l-1.55 -1.55z" fill="none" stroke="#6c6cff" stroke-width="0.70"/>
<path d="M526.72 298.45l1.55 1.55l-1.55 1.55l-1.55 -1.55z" fill="none" stroke="#6c6cff" stroke-width="0.70"/>
<path d="M528.52 298.45l1.55 1.55l-1.55 1.55l-1.55 -1.55z" fill="none" stroke="#6c6cff" stroke-width="0.70"/>
<path d="M530.33 298.45l1.55 1.55l-1.55 1.55l-1.55 -1.55z" fill="none" stroke="#6c6cff" stroke-width="0.70"/>
<path d="M532.13 298.45l1.55 1.55l-1.55 1.55l-1.55 -1.55z" fill="none" stroke="#6c6cff" stroke-width="0.70"/>
<path d="M533.94 298.45l1.55 1.55l-1.55 1.55l-1.55 -1.55z" fill="none" stroke="#6c6cff" stroke-width="0.70"/>
<path d="M535.75 298.45l1.55 1.55l-1.55 1.55l-1.55 -1.55z" fill="none" stroke="#6c6cff" stroke-width="0.70"/>
<path d="M537.55 298.45l1.55 1.55l-1.55 1.55l-1.55 -1.55z" fill="none" stroke="#6c6cff" stroke-width="0.70"/>
<path d="M539.36 298.45l1.55 1.55l-1.55 1.55l-1.55 -1.55z" fill="none" stroke="#6c6cff" stroke-width="0.70"/>
<path d="M541.16 298.45l1.55 1.55l-1.55 1.55l-1.55 -1.55z" fill="none" stroke="#6c6cff" stroke-width="0.70"/>
<path d="M542.97 298.45l1.55 1.55l-1.55 1.55l-1.55 -1.55z" fill="none" stroke="#6c6cff" stroke-width="0.70"/>
<path d="M544.77 298.45l1.55 1.55l-1.55 1.55l-1.55 -1.55z" fill="none" stroke="#6c6cff" stroke-width="0.70"/>
<path d="M546.58 298.45l1.55 1.55l-1.55 1.55l-1.55 -1.55z" fill="none" stroke="#6c6cff" stroke-width="0.70"/>
<path d="M548.38 298.45l1.55 1.55l-1.55 1.55l-1.55 -1.55z" fill="none" stroke="#6c6cff" stroke-width="0.70"/>
<path d="M550.18 298.45l1.55 1.55l-1.55 1.55l-1.55 -1.55z" fill="none" stroke="#6c6cff" stroke-width="0.70"/>
<path d="M551.99 298.45l1.55 1.55l-1.55 1.55l-1.55 -1.55z" fill="none" stroke="#6c6cff" stroke-width="0.70"/>
<path d="M553.79 298.45l1.55 1.55l-1.55 1.55l-1.55 -1.55z" fill="none" stroke="#6c6cff" stroke-width="0.70"/>
<path d="M555.60 298.45l1.55 1.55l-1.55 1.55l-1.55 -1.55z" fill="none" stroke="#6c6cff" stroke-width="0.70"/>
<path d="M557.40 298.45l1.55 1.55l-1.55 1.55l-1.55 -1.55z" fill="none" stroke="#6c6cff" stroke-width="0.70"/>
<path d="M559.21 298.45l1.55 1.55l-1.55 1.55l-1.55 -1.55z" fill="none" stroke="#6c6cff" stroke-width="0.70"/>
<path d="M561.01 298.45l1.55 1.55l-1.55 1.55l-1.55 -1.55z" fill="none" stroke="#6c6cff" stroke-width="0.70"/>
<path d="M562.82 298.45l1.55 1.55l-1.55 1.55l-1.55 -1.55z" fill="none" stroke="#6c6cff" stroke-width="0.70"/>
<path d="M564.62 298.45l1.55 1.55l-1.55 1.55l-1.55 -1.55z" fill="none" stroke="#6c6cff" stroke-width="0.70"/>
<path d="M566.43 298.45l1.55 1.55l-1.55 1.55l-1.55 -1.55z" fill="none" stroke="#6c6cff" stroke-width="0.70"/>
<path d="M568.24 298.45l1.55 1.55l-1.55 1.55l-1.55 -1.55z" fill="none" stroke="#6c6cff" stroke-width="0.70"/>
<path d="M570.04 298.45l1.55 1.55l-1.55 1.55l-1.55 -1.55z" fill="none" stroke="#6c6cff" stroke-width="0.70"/>
<path d="M571.85 298.45l1.55 1.55l-1.55 1.55l-1.55 -1.55z" fill="none" stroke="#6c6cff" stroke-width="0.70"/>
<path d="M573.65 298.45l1.55 1.55l-1.55 1.55l-1.55 -1.55z" fill="none" stroke="#6c6cff" stroke-width="0.70"/>
<path d="M575.45 298.45l1.55 1.55l-1.55 1.55l-1.55 -1.55z" fill="none" stroke="#6c6cff" stroke-width="0.70"/>
<path d="M577.26 298.45l1.55 1.55l-1.55 1.55l-1.55 -1.55z" fill="none" stroke="#6c6cff" stroke-width="0.70"/>
<path d="M579.06 298.45l1.55 1.55l-1.55 1.55l-1.55 -1.55z" fill="none" stroke="#6c6cff" stroke-width="0.70"/>
<path d="M580.87 298.45l1.55 1.55l-1.55 1.55l-1.55 -1.55z" fill="none" stroke="#6c6cff" stroke-width="0.70"/>
<path d="M582.67 298.45l1.55 1.55l-1.55 1.55l-1.55 -1.55z" fill="none" stroke="#6c6cff" stroke-width="0.70"/>
<path d="M584.48 298.45l1.55 1.55l-1.55 1.55l-1.55 -1.55z" fill="none" stroke="#6c6cff" stroke-width="0.70"/>
<path d="M586.28 298.45l1.55 1.55l-1.55 1.55l-1.55 -1.55z" fill="none" stroke="#6c6cff" stroke-width="0.70"/>
<path d="M588.09 298.45l1.55 1.55l-1.55 1.55l-1.55 -1.55z" fill="none" stroke="#6c6cff" stroke-width="0.70"/>
<path d="M589.89 298.45l1.55 1.55l-1.55 1.55l-1.55 -1.55z" fill="none" stroke="#6c6cff" stroke-width="0.70"/>
<path d="M591.70 298.45l1.55 1.55l-1.55 1.55l-1.55 -1.55z" fill="none" stroke="#6c6cff" stroke-width="0.70"/>
<path d="M593.50 298.45l1.55 1.55l-1.55 1.55l-1.55 -1.55z" fill="none" stroke="#6c6cff" stroke-width="0.70"/>
<path d="M595.31 298.45l1.55 1.55l-1.55 1.55l-1.55 -1.55z" fill="none" stroke="#6c6cff" stroke-width="0.70"/>
<path d="M597.12 298.45l1.55 1.55l-1.55 1.55l-1.55 -1.55z" fill="none" stroke="#6c6cff" stroke-width="0.70"/>
<path d="M598.92 298.45l1.55 1.55l-1.55 1.55l-1.55 -1.55z" fill="none" stroke="#6c6cff" stroke-width="0.70"/>
<path d="M600.72 298.45l1.55 1.55l-1.55 1.55l-1.55 -1.55z" fill="none" stroke="#6c6cff" stroke-width="0.70"/>
<path d="M602.53 298.45l1.55 1.55l-1.55 1.55l-1.55 -1.55z" fill="none" stroke="#6c6cff" stroke-width="0.70"/>
<path d="M604.34 298.45l1.55 1.55l-1.55 1.55l-1.55 -1.55z" fill="none" stroke="#6c6cff" stroke-width="0.70"/>
<path d="M606.14 298.45l1.55 1.55l-1.55 1.55l-1.55 -1.55z" fill="none" stroke="#6c6cff" stroke-width="0.70"/>
<path d="M607.94 298.45l1.55 1.55l-1.55 1.55l-1.55 -1.55z" fill="none" stroke="#6c6cff" stroke-width="0.70"/>
<path d="M609.75 298.45l1.55 1.55l-1.55 1.55l-1.55 -1.55z" fill="none" stroke="#6c6cff" stroke-width="0.70"/>
<path d="M611.55 298.45l1.55 1.55l-1.55 1.55l-1.55 -1.55z" fill="none" stroke="#6c6cff" stroke-width="0.70"/>
<path d="M613.36 298.45l1.55 1.55l-1.55 1.55l-1.55 -1.55z" fill="none" stroke="#6c6cff" stroke-width="0.70"/>
<path d="M615.16 298.45l1.55 1.55l-1.55 1.55l-1.55 -1.55z" fill="none" stroke="#6c6cff" stroke-width="0.70"/>
<path d="M616.97 298.45l1.55 1.55l-1.55 1.55l-1.55 -1.55z" fill="none" stroke="#6c6cff" stroke-width="0.70"/>
<path d="M618.77 298.45l1.55 1.55l-1.55 1.55l-1.55 -1.55z" fill="none" stroke="#6c6cff" stroke-width="0.70"/>
<path d="M620.58 298.45l1.55 1.55l-1.55 1.55l-1.55 -1.55z" fill="none" stroke="#6c6cff" stroke-width="0.70"/>
<path d="M622.38 298.45l1.55 1.55l-1.55 1.55l-1.55 -1.55z" fill="none" stroke="#6c6cff" stroke-width="0.70"/>
<path d="M624.19 298.45l1.55 1.55l-1.55 1.55l-1.55 -1.55z" fill="none" stroke="#6c6cff" stroke-width="0.70"/>
<path d="M625.99 298.45l1.55 1.55l-1.55 1.55l-1.55 -1.55z" fill="none" stroke="#6c6cff" stroke-width="0.70"/>
<path d="M627.80 298.45l1.55 1.55l-1.55 1.55l-1.55 -1.55z" fill="none" stroke="#6c6cff" stroke-width="0.70"/>
<circle cx="560.00" cy="64.60" r="1.15" fill="none" stroke="#6c6cff" stroke-width="0.70"/>
<circle cx="560.00" cy="75.40" r="1.15" fill="none" stroke="#ff7474" stroke-width="0.70"/>
<text x="573.30" y="67.90" font-size="9.00" text-anchor="start" textLength="17.80" lengthAdjust="spacingAndGlyphs">bare</text>
<text x="573.30" y="78.70" font-size="9.00" text-anchor="start" textLength="28.00" lengthAdjust="spacingAndGlyphs">coated</text>
<path d="M560.00 149.80l1.48 2.55h-2.96z" fill="none" stroke="#6c6cff" stroke-width="0.70"/>
<path d="M560.00 160.80l1.48 2.55h-2.96z" fill="none" stroke="#ff7474" stroke-width="0.70"/>
<text x="573.30" y="154.80" font-size="9.00" text-anchor="start" textLength="17.80" lengthAdjust="spacingAndGlyphs">bare</text>
<text x="573.30" y="165.80" font-size="9.00" text-anchor="start" textLength="28.00" lengthAdjust="spacingAndGlyphs">coated</text>
<path d="M560.00 244.85l1.55 1.55l-1.55 1.55l-1.55 -1.55z" fill="none" stroke="#6c6cff" stroke-width="0.70"/>
<path d="M560.00 256.35l1.55 1.55l-1.55 1.55l-1.55 -1.55z" fill="none" stroke="#ff7474" stroke-width="0.70"/>
<text x="573.30" y="249.70" font-size="9.00" text-anchor="start" textLength="17.80" lengthAdjust="spacingAndGlyphs">bare</text>
<text x="573.30" y="261.20" font-size="9.00" text-anchor="start" textLength="28.00" lengthAdjust="spacingAndGlyphs">coated</text>
</svg>
</body></html>
